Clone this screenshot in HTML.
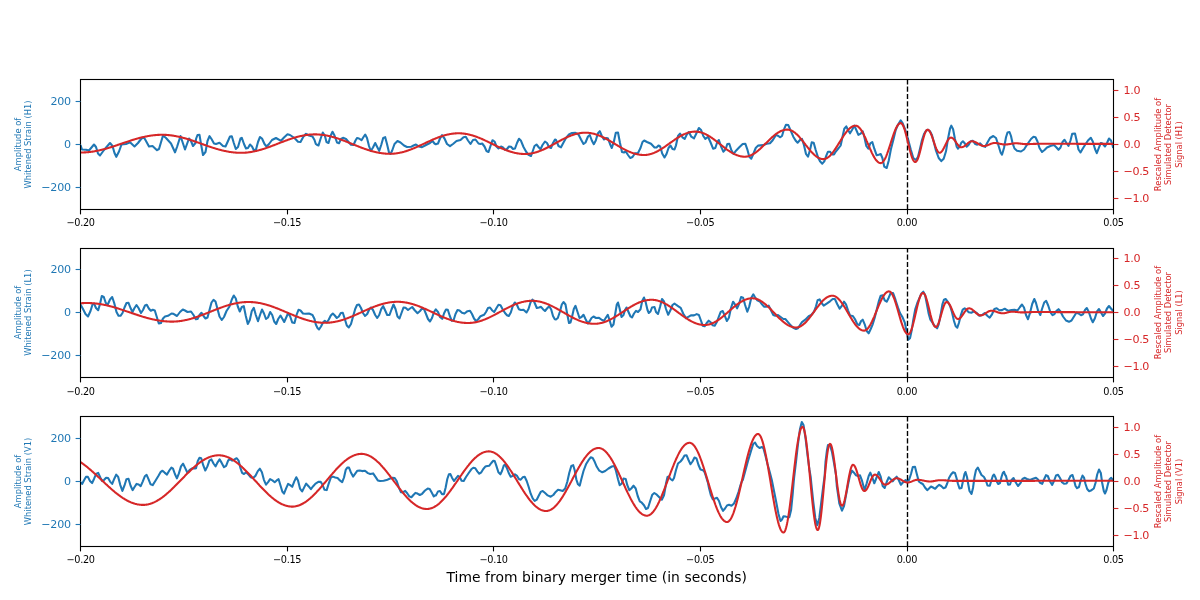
<!DOCTYPE html>
<html><head><meta charset="utf-8"><title>Whitened strain</title><style>html,body{margin:0;padding:0;background:#fff}body{width:1200px;height:600px;overflow:hidden}</style></head><body>
<svg width="1200" height="600" viewBox="0 0 1200 600" style="display:block;font-family:'DejaVu Sans','Liberation Sans',sans-serif">
<rect width="1200" height="600" fill="#fff"/>
<defs>
<clipPath id="c0"><rect x="80.5" y="79.5" width="1033.0" height="130.0"/></clipPath>
<clipPath id="c1"><rect x="80.5" y="248.5" width="1033.0" height="129.0"/></clipPath>
<clipPath id="c2"><rect x="80.5" y="416.5" width="1033.0" height="130.0"/></clipPath>
</defs>
<g clip-path="url(#c0)">
<polyline points="80.5,145.0 82.0,149.5 86.0,149.8 89.0,150.5 94.0,144.5 96.0,147.0 98.0,153.5 100.0,155.5 104.0,150.0 110.0,143.0 112.5,146.0 114.5,153.0 116.3,156.8 119.0,151.5 121.5,144.5 126.0,144.0 130.0,142.3 134.5,146.5 138.0,143.0 141.5,138.5 144.0,137.5 146.0,141.0 149.0,146.5 152.5,146.0 157.0,150.2 159.0,149.0 163.0,135.5 166.0,138.0 171.0,143.5 175.0,152.3 177.0,147.0 180.5,136.0 182.5,142.0 185.0,149.5 189.0,138.5 191.0,141.0 193.0,146.0 195.5,143.0 196.0,139.0 197.5,135.0 199.5,134.8 201.0,144.0 203.0,155.0 205.5,152.0 207.5,141.0 209.5,136.2 211.5,139.0 214.0,143.5 216.0,144.0 219.5,142.8 223.0,146.0 225.5,146.5 228.0,141.0 230.0,136.5 231.8,136.2 233.8,143.0 235.8,149.0 238.0,147.0 240.5,138.5 241.8,137.8 244.0,144.0 246.0,148.5 248.0,148.0 250.0,144.5 252.0,146.5 254.0,150.5 256.0,149.5 258.0,142.0 260.0,137.0 262.0,138.5 264.5,144.0 266.5,146.5 269.0,144.0 272.0,140.0 276.0,138.0 281.0,140.8 284.0,137.5 287.5,134.3 290.0,135.0 294.5,138.0 298.0,141.8 300.5,142.0 303.5,136.5 306.0,133.8 309.0,135.5 312.5,136.5 314.5,140.0 315.8,144.0 316.5,144.5 318.5,145.5 320.5,139.0 322.8,132.5 324.8,135.5 326.5,142.0 328.5,143.0 330.5,136.0 332.5,131.8 334.5,135.5 337.0,142.5 339.0,143.2 341.0,139.0 343.0,137.8 346.0,139.0 349.0,142.5 351.0,144.8 353.5,145.0 355.5,140.5 357.0,138.0 359.0,138.5 361.5,140.2 363.5,137.0 365.2,134.5 367.0,138.0 369.0,146.0 370.8,151.0 373.0,147.5 375.2,143.0 377.2,147.0 379.2,150.8 381.2,145.0 383.2,138.0 385.2,137.2 387.0,144.0 389.0,152.5 390.5,154.0 392.2,150.5 394.5,144.0 397.5,141.0 400.5,142.5 404.0,145.5 407.0,147.0 411.0,146.8 413.5,145.5 416.0,144.5 419.0,146.5 422.0,147.2 426.0,145.0 430.0,143.0 432.5,141.0 434.5,143.5 435.8,144.3 436.5,144.0 438.0,143.5 440.0,138.5 442.0,135.2 444.5,138.5 447.0,144.0 450.0,146.2 453.0,144.0 456.5,141.0 460.5,140.0 463.5,137.2 465.8,136.8 468.0,140.5 470.5,144.0 473.0,140.0 475.5,139.5 478.5,143.5 480.5,144.0 482.2,143.5 484.5,146.5 486.5,151.0 488.5,152.0 490.5,146.0 492.5,140.2 494.5,141.5 496.5,146.5 498.5,148.5 501.0,146.5 503.0,147.5 505.0,149.8 507.0,149.0 509.0,146.5 511.0,146.8 513.0,149.0 515.0,148.5 517.0,143.0 519.0,138.8 521.0,140.8 523.5,147.0 526.0,151.5 528.5,154.8 531.0,156.0 532.8,151.0 534.5,146.0 536.5,144.5 538.5,147.0 540.5,149.2 542.5,145.0 545.0,141.5 547.0,143.0 549.0,147.0 551.0,148.0 553.0,143.0 555.0,139.5 556.0,140.0 558.5,146.0 561.0,147.3 563.5,142.5 566.0,138.0 569.0,134.5 572.0,133.0 575.5,132.8 578.5,134.5 581.0,139.5 583.5,144.0 585.5,142.5 588.0,136.5 589.8,135.0 591.8,140.5 593.8,144.2 595.8,140.5 597.8,133.5 599.8,131.2 601.8,136.0 604.0,139.5 606.0,138.0 607.8,138.2 610.0,144.0 611.8,148.0 613.8,142.0 615.8,132.8 618.0,132.5 620.0,143.0 622.0,152.0 624.0,152.5 625.8,151.5 628.0,155.0 630.2,158.0 632.5,157.0 635.0,153.2 638.0,153.0 640.5,148.0 642.5,142.0 644.2,140.5 647.0,142.0 651.0,143.8 654.5,147.5 656.5,147.5 658.5,145.5 660.2,146.5 662.2,153.5 664.5,157.5 666.5,154.0 668.5,148.0 670.5,145.5 672.5,149.0 674.5,149.5 676.0,145.3 678.0,136.0 680.0,133.6 682.4,137.3 684.7,138.9 686.7,134.7 688.9,132.0 691.3,136.7 694.0,138.4 696.7,132.7 698.9,128.0 701.1,130.0 703.3,136.0 705.3,138.9 708.0,136.7 710.4,142.0 713.1,148.7 715.3,148.0 717.3,142.0 718.9,140.0 721.1,146.7 723.3,151.7 725.6,149.3 727.3,144.0 729.3,143.7 731.3,150.0 733.6,154.0 736.0,150.7 739.3,147.3 742.7,144.0 745.3,143.7 747.3,149.3 749.3,156.7 751.3,158.7 753.3,154.0 755.7,148.0 758.0,145.6 763.3,145.1 766.7,143.7 770.0,143.3 772.7,140.3 776.0,134.9 778.4,136.0 780.0,137.3 782.0,136.0 784.0,129.3 786.0,124.7 788.3,125.1 790.7,130.7 793.3,136.7 796.0,141.1 797.6,142.7 800.0,140.0 802.0,138.9 804.0,145.3 806.0,154.0 808.0,156.7 810.0,150.0 811.7,142.4 813.7,142.7 815.7,150.0 818.0,157.3 820.0,161.3 822.3,163.7 824.3,161.3 826.4,155.3 828.0,151.7 830.0,151.7 832.0,154.4 834.0,154.4 836.0,151.3 838.7,148.0 840.7,145.3 842.7,136.0 844.3,128.7 846.3,126.4 848.0,130.0 850.0,133.3 852.0,130.0 854.3,125.6 856.3,130.0 858.4,134.9 860.7,133.6 862.7,131.3 864.3,136.7 866.3,146.0 868.3,148.7 870.3,143.3 872.3,142.0 874.3,148.7 876.7,155.3 878.7,154.7 880.7,154.0 882.4,158.0 884.3,166.7 886.7,168.0 888.7,160.7 890.9,149.3 893.3,140.0 895.7,130.0 898.0,124.7 900.7,120.3 902.7,123.3 905.3,130.0 908.0,138.9 910.7,149.3 913.3,158.0 916.0,160.0 918.0,156.7 920.0,148.7 922.0,140.0 924.0,134.0 926.0,130.7 928.0,129.7 930.0,131.3 932.0,135.3 934.0,142.7 936.0,150.7 938.7,158.0 941.3,161.1 943.7,158.7 946.0,151.3 948.0,138.7 950.0,128.7 951.3,125.6 953.1,129.3 954.9,138.7 956.7,146.7 958.0,148.7 959.7,146.7 961.3,142.7 962.9,141.3 964.7,143.3 966.7,146.7 968.7,144.7 970.7,141.3 972.7,140.7 975.3,144.0 977.3,144.7 980.0,143.3 982.7,146.0 985.1,146.9 987.3,142.7 990.0,138.0 993.3,136.0 996.0,138.0 998.4,145.3 1000.7,152.7 1002.0,154.7 1004.0,148.0 1006.0,137.3 1007.5,132.5 1009.5,132.0 1011.0,136.0 1012.5,143.0 1014.5,148.5 1017.0,150.8 1021.0,151.5 1024.0,149.5 1027.5,144.0 1031.0,139.0 1033.5,136.8 1035.5,137.2 1037.5,141.5 1039.5,148.0 1042.0,152.0 1044.5,150.0 1047.0,147.5 1051.0,145.8 1054.0,145.0 1056.5,147.5 1058.5,149.8 1060.5,147.5 1062.5,142.0 1064.5,139.8 1066.5,143.0 1068.5,145.8 1070.5,140.5 1072.2,133.8 1075.0,133.5 1076.5,140.0 1078.5,149.5 1080.5,152.5 1082.5,149.0 1085.0,145.0 1088.0,140.5 1090.8,137.8 1092.8,141.5 1095.0,149.0 1096.8,153.2 1098.8,148.0 1100.8,143.0 1102.5,143.5 1105.0,146.5 1107.0,143.0 1109.0,138.5 1111.0,140.5 1112.5,145.0 1113.2,148.0" fill="none" stroke="#1f77b4" stroke-width="2.08" stroke-linejoin="round" stroke-linecap="butt"/>
<line x1="907.5" y1="209.5" x2="907.5" y2="79.5" stroke="#000" stroke-width="1.39" stroke-dasharray="5.14 2.22"/>
<polyline points="80.5,152.5 81.0,152.5 81.5,152.5 82.0,152.5 82.5,152.5 83.0,152.5 83.5,152.5 84.0,152.4 84.5,152.4 85.0,152.4 85.5,152.4 86.0,152.3 86.5,152.3 87.0,152.3 87.5,152.2 88.0,152.2 88.5,152.1 89.0,152.1 89.5,152.0 90.0,152.0 90.5,151.9 91.0,151.8 91.5,151.8 92.0,151.7 92.5,151.6 93.0,151.6 93.5,151.5 94.0,151.4 94.5,151.3 95.0,151.2 95.5,151.1 96.0,151.0 96.5,150.9 97.0,150.8 97.5,150.7 98.0,150.6 98.5,150.5 99.0,150.4 99.5,150.3 100.0,150.2 100.5,150.1 101.0,150.0 101.5,149.8 102.0,149.7 102.5,149.6 103.0,149.5 103.5,149.3 104.0,149.2 104.5,149.1 105.0,148.9 105.5,148.8 106.0,148.7 106.5,148.5 107.0,148.4 107.5,148.2 108.0,148.1 108.5,147.9 109.0,147.8 109.5,147.6 110.0,147.5 110.5,147.3 111.0,147.2 111.5,147.0 112.0,146.8 112.5,146.7 113.0,146.5 113.5,146.4 114.0,146.2 114.5,146.0 115.0,145.9 115.5,145.7 116.0,145.5 116.5,145.4 117.0,145.2 117.5,145.0 118.0,144.8 118.5,144.7 119.0,144.5 119.5,144.3 120.0,144.2 120.5,144.0 121.0,143.8 121.5,143.7 122.0,143.5 122.5,143.3 123.0,143.1 123.5,143.0 124.0,142.8 124.5,142.6 125.0,142.5 125.5,142.3 126.0,142.1 126.5,141.9 127.0,141.8 127.5,141.6 128.0,141.4 128.5,141.3 129.0,141.1 129.5,140.9 130.0,140.8 130.5,140.6 131.0,140.5 131.5,140.3 132.0,140.1 132.5,140.0 133.0,139.8 133.5,139.7 134.0,139.5 134.5,139.4 135.0,139.2 135.5,139.1 136.0,138.9 136.5,138.8 137.0,138.6 137.5,138.5 138.0,138.4 138.5,138.2 139.0,138.1 139.5,138.0 140.0,137.8 140.5,137.7 141.0,137.6 141.5,137.5 142.0,137.3 142.5,137.2 143.0,137.1 143.5,137.0 144.0,136.9 144.5,136.8 145.0,136.7 145.5,136.6 146.0,136.5 146.5,136.4 147.0,136.3 147.5,136.2 148.0,136.1 148.5,136.0 149.0,135.9 149.5,135.8 150.0,135.7 150.5,135.7 151.0,135.6 151.5,135.5 152.0,135.5 152.5,135.4 153.0,135.3 153.5,135.3 154.0,135.2 154.5,135.2 155.0,135.1 155.5,135.1 156.0,135.0 156.5,135.0 157.0,135.0 157.5,134.9 158.0,134.9 158.5,134.9 159.0,134.9 159.5,134.8 160.0,134.8 160.5,134.8 161.0,134.8 161.5,134.8 162.0,134.8 162.5,134.8 163.0,134.8 163.5,134.8 164.0,134.8 164.5,134.8 165.0,134.9 165.5,134.9 166.0,134.9 166.5,134.9 167.0,135.0 167.5,135.0 168.0,135.1 168.5,135.1 169.0,135.1 169.5,135.2 170.0,135.3 170.5,135.3 171.0,135.4 171.5,135.4 172.0,135.5 172.5,135.6 173.0,135.6 173.5,135.7 174.0,135.8 174.5,135.9 175.0,136.0 175.5,136.1 176.0,136.2 176.5,136.3 177.0,136.4 177.5,136.5 178.0,136.6 178.5,136.7 179.0,136.8 179.5,136.9 180.0,137.0 180.5,137.1 181.0,137.2 181.5,137.4 182.0,137.5 182.5,137.6 183.0,137.8 183.5,137.9 184.0,138.0 184.5,138.2 185.0,138.3 185.5,138.5 186.0,138.6 186.5,138.7 187.0,138.9 187.5,139.0 188.0,139.2 188.5,139.4 189.0,139.5 189.5,139.7 190.0,139.8 190.5,140.0 191.0,140.2 191.5,140.3 192.0,140.5 192.5,140.6 193.0,140.8 193.5,141.0 194.0,141.2 194.5,141.3 195.0,141.5 195.5,141.7 196.0,141.8 196.5,142.0 197.0,142.2 197.5,142.4 198.0,142.6 198.5,142.7 199.0,142.9 199.5,143.1 200.0,143.3 200.5,143.4 201.0,143.6 201.5,143.8 202.0,144.0 202.5,144.2 203.0,144.3 203.5,144.5 204.0,144.7 204.5,144.9 205.0,145.0 205.5,145.2 206.0,145.4 206.5,145.6 207.0,145.8 207.5,145.9 208.0,146.1 208.5,146.3 209.0,146.4 209.5,146.6 210.0,146.8 210.5,147.0 211.0,147.1 211.5,147.3 212.0,147.4 212.5,147.6 213.0,147.8 213.5,147.9 214.0,148.1 214.5,148.2 215.0,148.4 215.5,148.6 216.0,148.7 216.5,148.9 217.0,149.0 217.5,149.1 218.0,149.3 218.5,149.4 219.0,149.6 219.5,149.7 220.0,149.8 220.5,150.0 221.0,150.1 221.5,150.2 222.0,150.4 222.5,150.5 223.0,150.6 223.5,150.7 224.0,150.8 224.5,150.9 225.0,151.0 225.5,151.1 226.0,151.2 226.5,151.3 227.0,151.4 227.5,151.5 228.0,151.6 228.5,151.7 229.0,151.8 229.5,151.9 230.0,152.0 230.5,152.0 231.0,152.1 231.5,152.2 232.0,152.2 232.5,152.3 233.0,152.3 233.5,152.4 234.0,152.5 234.5,152.5 235.0,152.5 235.5,152.6 236.0,152.6 236.5,152.7 237.0,152.7 237.5,152.7 238.0,152.7 238.5,152.8 239.0,152.8 239.5,152.8 240.0,152.8 240.5,152.8 241.0,152.8 241.5,152.8 242.0,152.8 242.5,152.8 243.0,152.8 243.5,152.7 244.0,152.7 244.5,152.7 245.0,152.7 245.5,152.6 246.0,152.6 246.5,152.6 247.0,152.5 247.5,152.5 248.0,152.4 248.5,152.3 249.0,152.3 249.5,152.2 250.0,152.1 250.5,152.1 251.0,152.0 251.5,151.9 252.0,151.8 252.5,151.7 253.0,151.6 253.5,151.5 254.0,151.4 254.5,151.3 255.0,151.2 255.5,151.1 256.0,151.0 256.5,150.9 257.0,150.8 257.5,150.6 258.0,150.5 258.5,150.4 259.0,150.2 259.5,150.1 260.0,150.0 260.5,149.8 261.0,149.7 261.5,149.5 262.0,149.4 262.5,149.2 263.0,149.1 263.5,148.9 264.0,148.8 264.5,148.6 265.0,148.4 265.5,148.3 266.0,148.1 266.5,147.9 267.0,147.7 267.5,147.6 268.0,147.4 268.5,147.2 269.0,147.0 269.5,146.8 270.0,146.7 270.5,146.5 271.0,146.3 271.5,146.1 272.0,145.9 272.5,145.7 273.0,145.5 273.5,145.3 274.0,145.2 274.5,145.0 275.0,144.8 275.5,144.6 276.0,144.4 276.5,144.2 277.0,144.0 277.5,143.8 278.0,143.6 278.5,143.4 279.0,143.2 279.5,143.0 280.0,142.8 280.5,142.6 281.0,142.4 281.5,142.2 282.0,142.0 282.5,141.9 283.0,141.7 283.5,141.5 284.0,141.3 284.5,141.1 285.0,140.9 285.5,140.7 286.0,140.5 286.5,140.4 287.0,140.2 287.5,140.0 288.0,139.8 288.5,139.6 289.0,139.5 289.5,139.3 290.0,139.1 290.5,138.9 291.0,138.8 291.5,138.6 292.0,138.4 292.5,138.3 293.0,138.1 293.5,138.0 294.0,137.8 294.5,137.7 295.0,137.5 295.5,137.4 296.0,137.2 296.5,137.1 297.0,137.0 297.5,136.8 298.0,136.7 298.5,136.6 299.0,136.4 299.5,136.3 300.0,136.2 300.5,136.1 301.0,136.0 301.5,135.9 302.0,135.8 302.5,135.7 303.0,135.6 303.5,135.5 304.0,135.4 304.5,135.3 305.0,135.2 305.5,135.1 306.0,135.1 306.5,135.0 307.0,134.9 307.5,134.9 308.0,134.8 308.5,134.7 309.0,134.7 309.5,134.6 310.0,134.6 310.5,134.6 311.0,134.5 311.5,134.5 312.0,134.5 312.5,134.5 313.0,134.4 313.5,134.4 314.0,134.4 314.5,134.4 315.0,134.4 315.5,134.4 316.0,134.4 316.5,134.4 317.0,134.4 317.5,134.5 318.0,134.5 318.5,134.5 319.0,134.5 319.5,134.6 320.0,134.6 320.5,134.7 321.0,134.7 321.5,134.8 322.0,134.8 322.5,134.9 323.0,134.9 323.5,135.0 324.0,135.1 324.5,135.2 325.0,135.2 325.5,135.3 326.0,135.4 326.5,135.5 327.0,135.6 327.5,135.7 328.0,135.8 328.5,135.9 329.0,136.0 329.5,136.1 330.0,136.3 330.5,136.4 331.0,136.5 331.5,136.6 332.0,136.8 332.5,136.9 333.0,137.0 333.5,137.2 334.0,137.3 334.5,137.5 335.0,137.6 335.5,137.8 336.0,137.9 336.5,138.1 337.0,138.2 337.5,138.4 338.0,138.6 338.5,138.7 339.0,138.9 339.5,139.1 340.0,139.3 340.5,139.4 341.0,139.6 341.5,139.8 342.0,140.0 342.5,140.2 343.0,140.3 343.5,140.5 344.0,140.7 344.5,140.9 345.0,141.1 345.5,141.3 346.0,141.5 346.5,141.7 347.0,141.9 347.5,142.1 348.0,142.3 348.5,142.5 349.0,142.7 349.5,142.9 350.0,143.1 350.5,143.3 351.0,143.5 351.5,143.7 352.0,143.9 352.5,144.1 353.0,144.3 353.5,144.5 354.0,144.7 354.5,144.9 355.0,145.1 355.5,145.3 356.0,145.5 356.5,145.7 357.0,145.9 357.5,146.1 358.0,146.3 358.5,146.5 359.0,146.7 359.5,146.9 360.0,147.1 360.5,147.3 361.0,147.5 361.5,147.7 362.0,147.9 362.5,148.0 363.0,148.2 363.5,148.4 364.0,148.6 364.5,148.8 365.0,149.0 365.5,149.1 366.0,149.3 366.5,149.5 367.0,149.6 367.5,149.8 368.0,150.0 368.5,150.1 369.0,150.3 369.5,150.4 370.0,150.6 370.5,150.7 371.0,150.9 371.5,151.0 372.0,151.2 372.5,151.3 373.0,151.4 373.5,151.6 374.0,151.7 374.5,151.8 375.0,151.9 375.5,152.1 376.0,152.2 376.5,152.3 377.0,152.4 377.5,152.5 378.0,152.6 378.5,152.7 379.0,152.8 379.5,152.9 380.0,153.0 380.5,153.0 381.0,153.1 381.5,153.2 382.0,153.3 382.5,153.3 383.0,153.4 383.5,153.4 384.0,153.5 384.5,153.5 385.0,153.6 385.5,153.6 386.0,153.7 386.5,153.7 387.0,153.7 387.5,153.7 388.0,153.8 388.5,153.8 389.0,153.8 389.5,153.8 390.0,153.8 390.5,153.8 391.0,153.8 391.5,153.8 392.0,153.8 392.5,153.7 393.0,153.7 393.5,153.7 394.0,153.6 394.5,153.6 395.0,153.5 395.5,153.5 396.0,153.4 396.5,153.3 397.0,153.3 397.5,153.2 398.0,153.1 398.5,153.0 399.0,152.9 399.5,152.8 400.0,152.7 400.5,152.6 401.0,152.5 401.5,152.4 402.0,152.3 402.5,152.2 403.0,152.0 403.5,151.9 404.0,151.8 404.5,151.6 405.0,151.5 405.5,151.3 406.0,151.2 406.5,151.0 407.0,150.8 407.5,150.7 408.0,150.5 408.5,150.3 409.0,150.1 409.5,150.0 410.0,149.8 410.5,149.6 411.0,149.4 411.5,149.2 412.0,149.0 412.5,148.8 413.0,148.6 413.5,148.4 414.0,148.2 414.5,148.0 415.0,147.8 415.5,147.6 416.0,147.3 416.5,147.1 417.0,146.9 417.5,146.7 418.0,146.4 418.5,146.2 419.0,146.0 419.5,145.8 420.0,145.5 420.5,145.3 421.0,145.1 421.5,144.8 422.0,144.6 422.5,144.4 423.0,144.1 423.5,143.9 424.0,143.7 424.5,143.4 425.0,143.2 425.5,143.0 426.0,142.7 426.5,142.5 427.0,142.3 427.5,142.0 428.0,141.8 428.5,141.6 429.0,141.3 429.5,141.1 430.0,140.9 430.5,140.7 431.0,140.4 431.5,140.2 432.0,140.0 432.5,139.8 433.0,139.5 433.5,139.3 434.0,139.1 434.5,138.9 435.0,138.7 435.5,138.5 436.0,138.3 436.5,138.1 437.0,137.9 437.5,137.7 438.0,137.5 438.5,137.3 439.0,137.1 439.5,137.0 440.0,136.8 440.5,136.6 441.0,136.4 441.5,136.3 442.0,136.1 442.5,135.9 443.0,135.8 443.5,135.6 444.0,135.5 444.5,135.3 445.0,135.2 445.5,135.1 446.0,134.9 446.5,134.8 447.0,134.7 447.5,134.6 448.0,134.5 448.5,134.4 449.0,134.3 449.5,134.2 450.0,134.1 450.5,134.0 451.0,133.9 451.5,133.8 452.0,133.8 452.5,133.7 453.0,133.6 453.5,133.6 454.0,133.5 454.5,133.5 455.0,133.4 455.5,133.4 456.0,133.4 456.5,133.3 457.0,133.3 457.5,133.3 458.0,133.3 458.5,133.3 459.0,133.3 459.5,133.3 460.0,133.3 460.5,133.3 461.0,133.4 461.5,133.4 462.0,133.4 462.5,133.5 463.0,133.5 463.5,133.6 464.0,133.6 464.5,133.7 465.0,133.8 465.5,133.9 466.0,133.9 466.5,134.0 467.0,134.1 467.5,134.2 468.0,134.3 468.5,134.4 469.0,134.5 469.5,134.7 470.0,134.8 470.5,134.9 471.0,135.1 471.5,135.2 472.0,135.3 472.5,135.5 473.0,135.6 473.5,135.8 474.0,136.0 474.5,136.1 475.0,136.3 475.5,136.5 476.0,136.6 476.5,136.8 477.0,137.0 477.5,137.2 478.0,137.4 478.5,137.6 479.0,137.8 479.5,138.0 480.0,138.2 480.5,138.4 481.0,138.6 481.5,138.8 482.0,139.0 482.5,139.3 483.0,139.5 483.5,139.7 484.0,139.9 484.5,140.2 485.0,140.4 485.5,140.6 486.0,140.9 486.5,141.1 487.0,141.3 487.5,141.6 488.0,141.8 488.5,142.1 489.0,142.3 489.5,142.6 490.0,142.8 490.5,143.0 491.0,143.3 491.5,143.5 492.0,143.8 492.5,144.0 493.0,144.3 493.5,144.5 494.0,144.7 494.5,145.0 495.0,145.2 495.5,145.5 496.0,145.7 496.5,146.0 497.0,146.2 497.5,146.4 498.0,146.7 498.5,146.9 499.0,147.1 499.5,147.4 500.0,147.6 500.5,147.8 501.0,148.0 501.5,148.3 502.0,148.5 502.5,148.7 503.0,148.9 503.5,149.1 504.0,149.3 504.5,149.5 505.0,149.7 505.5,149.9 506.0,150.1 506.5,150.3 507.0,150.5 507.5,150.7 508.0,150.8 508.5,151.0 509.0,151.2 509.5,151.3 510.0,151.5 510.5,151.7 511.0,151.8 511.5,152.0 512.0,152.1 512.5,152.2 513.0,152.4 513.5,152.5 514.0,152.6 514.5,152.8 515.0,152.9 515.5,153.0 516.0,153.1 516.5,153.2 517.0,153.3 517.5,153.4 518.0,153.4 518.5,153.5 519.0,153.6 519.5,153.7 520.0,153.7 520.5,153.8 521.0,153.8 521.5,153.9 522.0,153.9 522.5,153.9 523.0,154.0 523.5,154.0 524.0,154.0 524.5,154.0 525.0,154.0 525.5,154.0 526.0,154.0 526.5,154.0 527.0,153.9 527.5,153.9 528.0,153.9 528.5,153.8 529.0,153.8 529.5,153.7 530.0,153.6 530.5,153.6 531.0,153.5 531.5,153.4 532.0,153.3 532.5,153.2 533.0,153.1 533.5,153.0 534.0,152.9 534.5,152.7 535.0,152.6 535.5,152.5 536.0,152.3 536.5,152.2 537.0,152.0 537.5,151.8 538.0,151.7 538.5,151.5 539.0,151.3 539.5,151.1 540.0,150.9 540.5,150.7 541.0,150.5 541.5,150.3 542.0,150.1 542.5,149.9 543.0,149.7 543.5,149.5 544.0,149.2 544.5,149.0 545.0,148.8 545.5,148.5 546.0,148.3 546.5,148.0 547.0,147.8 547.5,147.5 548.0,147.3 548.5,147.0 549.0,146.7 549.5,146.5 550.0,146.2 550.5,146.0 551.0,145.7 551.5,145.4 552.0,145.1 552.5,144.9 553.0,144.6 553.5,144.3 554.0,144.0 554.5,143.8 555.0,143.5 555.5,143.2 556.0,142.9 556.5,142.7 557.0,142.4 557.5,142.1 558.0,141.8 558.5,141.6 559.0,141.3 559.5,141.0 560.0,140.7 560.5,140.5 561.0,140.2 561.5,140.0 562.0,139.7 562.5,139.4 563.0,139.2 563.5,138.9 564.0,138.7 564.5,138.4 565.0,138.2 565.5,137.9 566.0,137.7 566.5,137.5 567.0,137.2 567.5,137.0 568.0,136.8 568.5,136.6 569.0,136.4 569.5,136.2 570.0,136.0 570.5,135.8 571.0,135.6 571.5,135.4 572.0,135.2 572.5,135.0 573.0,134.9 573.5,134.7 574.0,134.5 574.5,134.4 575.0,134.2 575.5,134.1 576.0,134.0 576.5,133.8 577.0,133.7 577.5,133.6 578.0,133.5 578.5,133.4 579.0,133.3 579.5,133.2 580.0,133.1 580.5,133.1 581.0,133.0 581.5,132.9 582.0,132.9 582.5,132.8 583.0,132.8 583.5,132.8 584.0,132.7 584.5,132.7 585.0,132.7 585.5,132.7 586.0,132.7 586.5,132.7 587.0,132.7 587.5,132.8 588.0,132.8 588.5,132.8 589.0,132.9 589.5,133.0 590.0,133.0 590.5,133.1 591.0,133.2 591.5,133.3 592.0,133.4 592.5,133.5 593.0,133.6 593.5,133.7 594.0,133.8 594.5,134.0 595.0,134.1 595.5,134.3 596.0,134.4 596.5,134.6 597.0,134.8 597.5,134.9 598.0,135.1 598.5,135.3 599.0,135.5 599.5,135.7 600.0,135.9 600.5,136.1 601.0,136.3 601.5,136.6 602.0,136.8 602.5,137.0 603.0,137.3 603.5,137.5 604.0,137.8 604.5,138.0 605.0,138.3 605.5,138.5 606.0,138.8 606.5,139.1 607.0,139.3 607.5,139.6 608.0,139.9 608.5,140.2 609.0,140.5 609.5,140.7 610.0,141.0 610.5,141.3 611.0,141.6 611.5,141.9 612.0,142.2 612.5,142.5 613.0,142.8 613.5,143.1 614.0,143.4 614.5,143.7 615.0,144.0 615.5,144.3 616.0,144.6 616.5,144.9 617.0,145.2 617.5,145.5 618.0,145.8 618.5,146.1 619.0,146.4 619.5,146.7 620.0,147.0 620.5,147.2 621.0,147.5 621.5,147.8 622.0,148.1 622.5,148.4 623.0,148.6 623.5,148.9 624.0,149.2 624.5,149.4 625.0,149.7 625.5,149.9 626.0,150.2 626.5,150.4 627.0,150.7 627.5,150.9 628.0,151.1 628.5,151.4 629.0,151.6 629.5,151.8 630.0,152.0 630.5,152.2 631.0,152.4 631.5,152.6 632.0,152.8 632.5,152.9 633.0,153.1 633.5,153.3 634.0,153.4 634.5,153.6 635.0,153.7 635.5,153.9 636.0,154.0 636.5,154.1 637.0,154.2 637.5,154.3 638.0,154.4 638.5,154.5 639.0,154.6 639.5,154.7 640.0,154.7 640.5,154.8 641.0,154.9 641.5,154.9 642.0,154.9 642.5,155.0 643.0,155.0 643.5,155.0 644.0,155.0 644.5,155.0 645.0,155.0 645.5,155.0 646.0,154.9 646.5,154.9 647.0,154.8 647.5,154.7 648.0,154.7 648.5,154.6 649.0,154.5 649.5,154.3 650.0,154.2 650.5,154.1 651.0,153.9 651.5,153.8 652.0,153.6 652.5,153.5 653.0,153.3 653.5,153.1 654.0,152.9 654.5,152.7 655.0,152.4 655.5,152.2 656.0,152.0 656.5,151.7 657.0,151.5 657.5,151.2 658.0,151.0 658.5,150.7 659.0,150.4 659.5,150.1 660.0,149.8 660.5,149.5 661.0,149.2 661.5,148.9 662.0,148.6 662.5,148.3 663.0,147.9 663.5,147.6 664.0,147.3 664.5,146.9 665.0,146.6 665.5,146.2 666.0,145.9 666.5,145.5 667.0,145.2 667.5,144.8 668.0,144.5 668.5,144.1 669.0,143.8 669.5,143.4 670.0,143.0 670.5,142.7 671.0,142.3 671.5,142.0 672.0,141.6 672.5,141.3 673.0,140.9 673.5,140.6 674.0,140.2 674.5,139.9 675.0,139.5 675.5,139.2 676.0,138.9 676.5,138.5 677.0,138.2 677.5,137.9 678.0,137.6 678.5,137.3 679.0,137.0 679.5,136.7 680.0,136.4 680.5,136.1 681.0,135.8 681.5,135.5 682.0,135.3 682.5,135.0 683.0,134.8 683.5,134.5 684.0,134.3 684.5,134.1 685.0,133.9 685.5,133.6 686.0,133.4 686.5,133.3 687.0,133.1 687.5,132.9 688.0,132.7 688.5,132.6 689.0,132.5 689.5,132.3 690.0,132.2 690.5,132.1 691.0,132.0 691.5,131.9 692.0,131.8 692.5,131.8 693.0,131.7 693.5,131.7 694.0,131.6 694.5,131.6 695.0,131.6 695.5,131.6 696.0,131.6 696.5,131.6 697.0,131.7 697.5,131.7 698.0,131.8 698.5,131.9 699.0,131.9 699.5,132.0 700.0,132.2 700.5,132.3 701.0,132.4 701.5,132.6 702.0,132.7 702.5,132.9 703.0,133.1 703.5,133.3 704.0,133.5 704.5,133.7 705.0,133.9 705.5,134.1 706.0,134.4 706.5,134.7 707.0,134.9 707.5,135.2 708.0,135.5 708.5,135.8 709.0,136.1 709.5,136.4 710.0,136.7 710.5,137.0 711.0,137.4 711.5,137.7 712.0,138.0 712.5,138.4 713.0,138.7 713.5,139.1 714.0,139.5 714.5,139.8 715.0,140.2 715.5,140.6 716.0,141.0 716.5,141.4 717.0,141.8 717.5,142.2 718.0,142.6 718.5,143.0 719.0,143.4 719.5,143.8 720.0,144.1 720.5,144.5 721.0,144.9 721.5,145.3 722.0,145.7 722.5,146.1 723.0,146.5 723.5,146.9 724.0,147.3 724.5,147.7 725.0,148.1 725.5,148.5 726.0,148.8 726.5,149.2 727.0,149.6 727.5,149.9 728.0,150.3 728.5,150.6 729.0,150.9 729.5,151.3 730.0,151.6 730.5,151.9 731.0,152.2 731.5,152.5 732.0,152.8 732.5,153.1 733.0,153.4 733.5,153.6 734.0,153.9 734.5,154.2 735.0,154.4 735.5,154.6 736.0,154.8 736.5,155.0 737.0,155.2 737.5,155.4 738.0,155.6 738.5,155.7 739.0,155.9 739.5,156.0 740.0,156.1 740.5,156.3 741.0,156.4 741.5,156.4 742.0,156.5 742.5,156.6 743.0,156.6 743.5,156.7 744.0,156.7 744.5,156.7 745.0,156.7 745.5,156.7 746.0,156.6 746.5,156.6 747.0,156.5 747.5,156.4 748.0,156.3 748.5,156.2 749.0,156.0 749.5,155.9 750.0,155.7 750.5,155.5 751.0,155.3 751.5,155.0 752.0,154.8 752.5,154.5 753.0,154.2 753.5,153.9 754.0,153.6 754.5,153.3 755.0,153.0 755.5,152.6 756.0,152.3 756.5,151.9 757.0,151.5 757.5,151.1 758.0,150.7 758.5,150.3 759.0,149.8 759.5,149.4 760.0,149.0 760.5,148.5 761.0,148.0 761.5,147.6 762.0,147.1 762.5,146.6 763.0,146.1 763.5,145.6 764.0,145.1 764.5,144.6 765.0,144.1 765.5,143.6 766.0,143.1 766.5,142.7 767.0,142.2 767.5,141.7 768.0,141.2 768.5,140.7 769.0,140.2 769.5,139.7 770.0,139.2 770.5,138.7 771.0,138.3 771.5,137.8 772.0,137.3 772.5,136.9 773.0,136.5 773.5,136.0 774.0,135.6 774.5,135.2 775.0,134.8 775.5,134.4 776.0,134.0 776.5,133.7 777.0,133.3 777.5,133.0 778.0,132.7 778.5,132.4 779.0,132.1 779.5,131.8 780.0,131.5 780.5,131.3 781.0,131.0 781.5,130.8 782.0,130.6 782.5,130.4 783.0,130.3 783.5,130.1 784.0,130.0 784.5,129.9 785.0,129.8 785.5,129.7 786.0,129.7 786.5,129.6 787.0,129.6 787.5,129.6 788.0,129.6 788.5,129.7 789.0,129.8 789.5,129.9 790.0,130.0 790.5,130.2 791.0,130.4 791.5,130.6 792.0,130.8 792.5,131.1 793.0,131.4 793.5,131.7 794.0,132.1 794.5,132.4 795.0,132.8 795.5,133.2 796.0,133.7 796.5,134.1 797.0,134.6 797.5,135.1 798.0,135.6 798.5,136.1 799.0,136.6 799.5,137.2 800.0,137.8 800.5,138.4 801.0,138.9 801.5,139.5 802.0,140.2 802.5,140.8 803.0,141.4 803.5,142.0 804.0,142.7 804.5,143.3 805.0,144.0 805.5,144.6 806.0,145.3 806.5,145.9 807.0,146.5 807.5,147.2 808.0,147.8 808.5,148.4 809.0,149.0 809.5,149.6 810.0,150.2 810.5,150.8 811.0,151.4 811.5,151.9 812.0,152.5 812.5,153.0 813.0,153.5 813.5,154.0 814.0,154.5 814.5,155.0 815.0,155.4 815.5,155.8 816.0,156.2 816.5,156.6 817.0,156.9 817.5,157.3 818.0,157.6 818.5,157.8 819.0,158.1 819.5,158.3 820.0,158.5 820.5,158.7 821.0,158.8 821.5,158.9 822.0,159.0 822.5,159.1 823.0,159.1 823.5,159.1 824.0,159.1 824.5,159.0 825.0,158.9 825.5,158.7 826.0,158.5 826.5,158.3 827.0,158.0 827.5,157.7 828.0,157.4 828.5,157.0 829.0,156.6 829.5,156.2 830.0,155.7 830.5,155.2 831.0,154.6 831.5,154.1 832.0,153.5 832.5,152.8 833.0,152.2 833.5,151.5 834.0,150.8 834.5,150.1 835.0,149.4 835.5,148.7 836.0,147.9 836.5,147.1 837.0,146.3 837.5,145.5 838.0,144.7 838.5,143.9 839.0,143.1 839.5,142.3 840.0,141.5 840.5,140.7 841.0,139.9 841.5,139.1 842.0,138.3 842.5,137.5 843.0,136.7 843.5,136.0 844.0,135.2 844.5,134.5 845.0,133.8 845.5,133.1 846.0,132.5 846.5,131.8 847.0,131.2 847.5,130.6 848.0,130.1 848.5,129.5 849.0,129.0 849.5,128.6 850.0,128.1 850.5,127.7 851.0,127.3 851.5,127.0 852.0,126.7 852.5,126.5 853.0,126.2 853.5,126.0 854.0,125.9 854.5,125.8 855.0,125.7 855.5,125.7 856.0,125.7 856.5,125.8 857.0,126.0 857.5,126.2 858.0,126.5 858.5,126.9 859.0,127.4 859.5,127.9 860.0,128.5 860.5,129.1 861.0,129.8 861.5,130.6 862.0,131.4 862.5,132.3 863.0,133.2 863.5,134.1 864.0,135.1 864.5,136.2 865.0,137.2 865.5,138.3 866.0,139.4 866.5,140.6 867.0,141.7 867.5,142.9 868.0,144.0 868.5,145.2 869.0,146.4 869.5,147.5 870.0,148.7 870.5,149.8 871.0,150.9 871.5,152.0 872.0,153.1 872.5,154.1 873.0,155.1 873.5,156.0 874.0,156.9 874.5,157.7 875.0,158.5 875.5,159.3 876.0,160.0 876.5,160.6 877.0,161.1 877.5,161.6 878.0,162.0 878.5,162.4 879.0,162.7 879.5,162.9 880.0,163.0 880.5,163.1 881.0,163.1 881.5,162.9 882.0,162.7 882.5,162.3 883.0,161.8 883.5,161.2 884.0,160.5 884.5,159.6 885.0,158.7 885.5,157.7 886.0,156.6 886.5,155.4 887.0,154.1 887.5,152.7 888.0,151.3 888.5,149.9 889.0,148.4 889.5,146.8 890.0,145.3 890.5,143.7 891.0,142.2 891.5,140.6 892.0,139.0 892.5,137.5 893.0,136.0 893.5,134.6 894.0,133.2 894.5,131.9 895.0,130.6 895.5,129.4 896.0,128.3 896.5,127.3 897.0,126.4 897.5,125.6 898.0,124.9 898.5,124.3 899.0,123.8 899.5,123.5 900.0,123.2 900.5,123.1 901.0,123.1 901.5,123.4 902.0,123.9 902.5,124.5 903.0,125.4 903.5,126.5 904.0,127.8 904.5,129.2 905.0,130.8 905.5,132.6 906.0,134.4 906.5,136.4 907.0,138.4 907.5,140.5 908.0,142.6 908.5,144.6 909.0,146.7 909.5,148.7 910.0,150.7 910.5,152.5 911.0,154.3 911.5,155.9 912.0,157.3 912.5,158.6 913.0,159.7 913.5,160.6 914.0,161.2 914.5,161.7 915.0,162.0 915.5,162.0 916.0,161.7 916.5,161.2 917.0,160.5 917.5,159.5 918.0,158.3 918.5,156.9 919.0,155.3 919.5,153.6 920.0,151.7 920.5,149.7 921.0,147.7 921.5,145.6 922.0,143.6 922.5,141.6 923.0,139.6 923.5,137.8 924.0,136.1 924.5,134.5 925.0,133.1 925.5,132.0 926.0,131.0 926.5,130.3 927.0,129.9 927.5,129.7 928.0,129.8 928.5,130.0 929.0,130.5 929.5,131.1 930.0,131.9 930.5,132.9 931.0,134.0 931.5,135.2 932.0,136.5 932.5,137.9 933.0,139.4 933.5,140.9 934.0,142.4 934.5,143.9 935.0,145.3 935.5,146.7 936.0,148.0 936.5,149.1 937.0,150.1 937.5,151.0 938.0,151.7 938.5,152.2 939.0,152.6 939.5,152.7 940.0,152.7 940.5,152.5 941.0,152.1 941.5,151.7 942.0,151.1 942.5,150.4 943.0,149.6 943.5,148.7 944.0,147.8 944.5,146.8 945.0,145.8 945.5,144.7 946.0,143.7 946.5,142.7 947.0,141.7 947.5,140.8 948.0,140.0 948.5,139.3 949.0,138.7 949.5,138.2 950.0,137.9 950.5,137.7 951.0,137.6 951.5,137.7 952.0,137.8 952.5,138.1 953.0,138.5 953.5,138.9 954.0,139.5 954.5,140.1 955.0,140.8 955.5,141.5 956.0,142.2 956.5,143.0 957.0,143.7 957.5,144.4 958.0,145.0 958.5,145.6 959.0,146.2 959.5,146.6 960.0,146.9 960.5,147.2 961.0,147.3 961.5,147.3 962.0,147.2 962.5,147.1 963.0,146.9 963.5,146.7 964.0,146.4 964.5,146.1 965.0,145.7 965.5,145.3 966.0,144.9 966.5,144.4 967.0,144.0 967.5,143.6 968.0,143.1 968.5,142.7 969.0,142.4 969.5,142.1 970.0,141.8 970.5,141.6 971.0,141.4 971.5,141.3 972.0,141.3 972.5,141.3 973.0,141.4 973.5,141.5 974.0,141.6 974.5,141.8 975.0,142.0 975.5,142.2 976.0,142.5 976.5,142.8 977.0,143.0 977.5,143.3 978.0,143.7 978.5,144.0 979.0,144.3 979.5,144.5 980.0,144.8 980.5,145.1 981.0,145.3 981.5,145.5 982.0,145.7 982.5,145.8 983.0,145.9 983.5,146.0 984.0,146.0 984.5,146.0 985.0,145.9 985.5,145.9 986.0,145.7 986.5,145.6 987.0,145.5 987.5,145.3 988.0,145.1 988.5,144.9 989.0,144.7 989.5,144.4 990.0,144.2 990.5,144.0 991.0,143.8 991.5,143.6 992.0,143.4 992.5,143.3 993.0,143.2 993.5,143.1 994.0,143.0 994.5,143.0 995.0,143.0 995.5,143.0 996.0,143.1 996.5,143.1 997.0,143.2 997.5,143.3 998.0,143.3 998.5,143.4 999.0,143.6 999.5,143.7 1000.0,143.8 1000.5,143.9 1001.0,144.0 1001.5,144.1 1002.0,144.2 1002.5,144.3 1003.0,144.4 1003.5,144.4 1004.0,144.5 1004.5,144.5 1005.0,144.5 1005.5,144.5 1006.0,144.5 1006.5,144.4 1007.0,144.4 1007.5,144.4 1008.0,144.3 1008.5,144.2 1009.0,144.1 1009.5,144.1 1010.0,144.0 1010.5,143.9 1011.0,143.8 1011.5,143.7 1012.0,143.7 1012.5,143.6 1013.0,143.5 1013.5,143.4 1014.0,143.4 1014.5,143.4 1015.0,143.3 1015.5,143.3 1016.0,143.3 1016.5,143.3 1017.0,143.3 1017.5,143.3 1018.0,143.4 1018.5,143.4 1019.0,143.5 1019.5,143.5 1020.0,143.6 1020.5,143.6 1021.0,143.7 1021.5,143.8 1022.0,143.8 1022.5,143.9 1023.0,143.9 1023.5,144.0 1024.0,144.0 1024.5,144.1 1025.0,144.1 1025.5,144.1 1026.0,144.1 1026.5,144.1 1027.0,144.1 1027.5,144.1 1028.0,144.1 1028.5,144.1 1029.0,144.1 1029.5,144.1 1030.0,144.0 1030.5,144.0 1031.0,144.0 1031.5,144.0 1032.0,144.0 1032.5,144.0 1033.0,143.9 1033.5,143.9 1034.0,143.9 1034.5,143.9 1035.0,143.9 1035.5,143.9 1036.0,143.9 1036.5,143.8 1037.0,143.8 1037.5,143.8 1038.0,143.8 1038.5,143.8 1039.0,143.8 1039.5,143.8 1040.0,143.8 1040.5,143.8 1041.0,143.8 1041.5,143.8 1042.0,143.8 1042.5,143.8 1043.0,143.8 1043.5,143.8 1044.0,143.8 1044.5,143.8 1045.0,143.8 1045.5,143.8 1046.0,143.8 1046.5,143.8 1047.0,143.8 1047.5,143.8 1048.0,143.8 1048.5,143.8 1049.0,143.8 1049.5,143.8 1050.0,143.8 1050.5,143.8 1051.0,143.8 1051.5,143.8 1052.0,143.8 1052.5,143.8 1053.0,143.8 1053.5,143.8 1054.0,143.8 1054.5,143.8 1055.0,143.8 1055.5,143.8 1056.0,143.8 1056.5,143.8 1057.0,143.8 1057.5,143.8 1058.0,143.8 1058.5,143.8 1059.0,143.8 1059.5,143.8 1060.0,143.8 1060.5,143.8 1061.0,143.8 1061.5,143.8 1062.0,143.8 1062.5,143.8 1063.0,143.8 1063.5,143.8 1064.0,143.8 1064.5,143.8 1065.0,143.8 1065.5,143.8 1066.0,143.8 1066.5,143.8 1067.0,143.8 1067.5,143.8 1068.0,143.8 1068.5,143.8 1069.0,143.8 1069.5,143.8 1070.0,143.8 1070.5,143.8 1071.0,143.8 1071.5,143.8 1072.0,143.8 1072.5,143.8 1073.0,143.8 1073.5,143.8 1074.0,143.8 1074.5,143.8 1075.0,143.8 1075.5,143.8 1076.0,143.8 1076.5,143.8 1077.0,143.9 1077.5,143.9 1078.0,143.9 1078.5,143.9 1079.0,143.9 1079.5,143.9 1080.0,143.9 1080.5,143.9 1081.0,143.9 1081.5,143.9 1082.0,143.9 1082.5,143.9 1083.0,143.9 1083.5,143.9 1084.0,143.9 1084.5,143.9 1085.0,143.9 1085.5,143.9 1086.0,143.9 1086.5,143.9 1087.0,143.9 1087.5,143.9 1088.0,143.9 1088.5,143.9 1089.0,143.9 1089.5,143.9 1090.0,143.9 1090.5,143.9 1091.0,143.9 1091.5,143.9 1092.0,143.9 1092.5,143.9 1093.0,143.9 1093.5,143.9 1094.0,143.9 1094.5,143.9 1095.0,143.9 1095.5,143.9 1096.0,143.9 1096.5,143.9 1097.0,143.9 1097.5,143.9 1098.0,143.9 1098.5,143.9 1099.0,143.9 1099.5,143.9 1100.0,143.9 1100.5,143.9 1101.0,143.9 1101.5,143.9 1102.0,143.9 1102.5,143.9 1103.0,143.9 1103.5,143.9 1104.0,143.9 1104.5,143.9 1105.0,143.9 1105.5,143.9 1106.0,143.9 1106.5,143.9 1107.0,143.9 1107.5,143.9 1108.0,143.9 1108.5,143.9 1109.0,143.9 1109.5,143.9 1110.0,143.9 1110.5,143.9 1111.0,143.9 1111.5,143.9 1112.0,143.9 1112.5,143.9 1113.0,143.9 1113.5,143.9" fill="none" stroke="#d62728" stroke-width="2.08" stroke-linejoin="round" stroke-linecap="butt"/>
</g>
<rect x="80.5" y="79.5" width="1033.0" height="130.0" fill="none" stroke="#000" stroke-width="1.11"/>
<line x1="80.5" y1="209.5" x2="80.5" y2="214.4" stroke="#000" stroke-width="1.11"/>
<text x="80.6" y="225.8" font-size="9.72" letter-spacing="-0.3" text-anchor="middle" fill="#000">−0.20</text>
<line x1="287.5" y1="209.5" x2="287.5" y2="214.4" stroke="#000" stroke-width="1.11"/>
<text x="287.1" y="225.8" font-size="9.72" letter-spacing="-0.3" text-anchor="middle" fill="#000">−0.15</text>
<line x1="493.5" y1="209.5" x2="493.5" y2="214.4" stroke="#000" stroke-width="1.11"/>
<text x="493.6" y="225.8" font-size="9.72" letter-spacing="-0.3" text-anchor="middle" fill="#000">−0.10</text>
<line x1="700.5" y1="209.5" x2="700.5" y2="214.4" stroke="#000" stroke-width="1.11"/>
<text x="700.2" y="225.8" font-size="9.72" letter-spacing="-0.3" text-anchor="middle" fill="#000">−0.05</text>
<line x1="907.5" y1="209.5" x2="907.5" y2="214.4" stroke="#000" stroke-width="1.11"/>
<text x="906.9" y="225.8" font-size="9.72" letter-spacing="-0.3" text-anchor="middle" fill="#000">0.00</text>
<line x1="1113.5" y1="209.5" x2="1113.5" y2="214.4" stroke="#000" stroke-width="1.11"/>
<text x="1113.5" y="225.8" font-size="9.72" letter-spacing="-0.3" text-anchor="middle" fill="#000">0.05</text>
<line x1="75.6" y1="101.5" x2="80.5" y2="101.5" stroke="#1f77b4" stroke-width="1.11"/>
<text x="70.7" y="105.0" font-size="11.11" letter-spacing="-0.3" text-anchor="end" fill="#1f77b4">200</text>
<line x1="75.6" y1="144.5" x2="80.5" y2="144.5" stroke="#1f77b4" stroke-width="1.11"/>
<text x="70.7" y="148.0" font-size="11.11" letter-spacing="-0.3" text-anchor="end" fill="#1f77b4">0</text>
<line x1="75.6" y1="187.5" x2="80.5" y2="187.5" stroke="#1f77b4" stroke-width="1.11"/>
<text x="70.7" y="191.0" font-size="11.11" letter-spacing="-0.3" text-anchor="end" fill="#1f77b4">−200</text>
<line x1="1113.5" y1="90.5" x2="1118.4" y2="90.5" stroke="#d62728" stroke-width="1.11"/>
<text x="1123.6" y="94.0" font-size="11.11" letter-spacing="-0.4" text-anchor="start" fill="#d62728">1.0</text>
<line x1="1113.5" y1="117.5" x2="1118.4" y2="117.5" stroke="#d62728" stroke-width="1.11"/>
<text x="1123.6" y="121.0" font-size="11.11" letter-spacing="-0.4" text-anchor="start" fill="#d62728">0.5</text>
<line x1="1113.5" y1="144.5" x2="1118.4" y2="144.5" stroke="#d62728" stroke-width="1.11"/>
<text x="1123.6" y="148.0" font-size="11.11" letter-spacing="-0.4" text-anchor="start" fill="#d62728">0.0</text>
<line x1="1113.5" y1="171.5" x2="1118.4" y2="171.5" stroke="#d62728" stroke-width="1.11"/>
<text x="1123.6" y="175.0" font-size="11.11" letter-spacing="-0.4" text-anchor="start" fill="#d62728">−0.5</text>
<line x1="1113.5" y1="198.5" x2="1118.4" y2="198.5" stroke="#d62728" stroke-width="1.11"/>
<text x="1123.6" y="202.0" font-size="11.11" letter-spacing="-0.4" text-anchor="start" fill="#d62728">−1.0</text>
<g transform="translate(0,144.5) rotate(-90)" font-size="8.33" text-anchor="middle" fill="#1f77b4"><text x="0" y="21.0">Amplitude of</text><text x="0" y="31.3">Whitened Strain (H1)</text></g>
<g transform="translate(0,144.5) rotate(-90)" font-size="8.33" text-anchor="middle" fill="#d62728"><text x="0" y="1161">Rescaled Amplitude of</text><text x="0" y="1171.3">Simulated Detector</text><text x="0" y="1181.6">Signal (H1)</text></g>
<g clip-path="url(#c1)">
<polyline points="80.5,304.5 83.0,309.0 85.5,314.0 88.0,316.5 90.5,311.0 92.5,304.5 94.0,303.5 96.0,308.0 98.2,310.2 100.0,304.0 101.8,296.0 103.8,297.0 105.8,303.0 107.8,304.5 110.0,299.5 112.2,297.0 114.2,303.0 116.5,312.0 118.5,315.8 120.5,315.8 122.5,313.0 124.5,307.5 126.5,303.0 128.5,302.8 130.5,308.0 132.5,312.0 134.5,308.0 136.5,305.0 138.5,308.0 141.0,313.0 143.0,310.0 145.0,305.5 146.8,304.8 148.8,308.5 150.8,310.8 152.8,309.8 154.8,310.5 156.8,317.0 158.8,323.5 161.0,323.0 163.0,318.5 165.0,316.5 168.0,315.8 171.5,313.5 173.5,313.8 177.0,316.0 180.0,312.0 182.8,309.5 185.0,310.5 187.5,312.0 191.0,311.5 193.5,315.0 195.8,319.2 197.5,319.0 199.5,315.0 201.5,312.8 203.5,316.0 205.5,318.5 207.5,317.5 209.5,310.0 211.5,302.5 213.5,299.8 215.5,301.5 217.5,309.0 219.5,316.5 221.8,320.0 224.0,317.0 226.5,311.0 229.5,306.5 231.8,299.5 233.8,295.5 235.8,298.5 237.8,306.5 239.8,311.5 241.8,307.0 243.8,306.2 245.8,316.0 247.8,324.0 249.8,320.0 251.8,311.0 253.8,307.8 255.8,315.0 258.0,321.2 260.0,315.0 262.0,309.5 264.0,313.5 266.0,319.0 268.0,317.5 270.2,312.0 272.2,315.0 274.2,321.5 276.2,324.0 278.2,319.0 280.5,315.5 282.5,319.0 284.2,322.0 286.2,317.5 288.2,313.0 290.2,316.5 292.2,322.5 294.5,323.0 296.5,315.0 298.5,309.8 300.5,310.5 303.0,313.5 305.5,313.8 309.0,313.5 312.5,315.0 314.5,319.0 315.8,324.5 317.5,328.0 319.0,329.5 321.0,326.5 323.0,322.5 324.8,320.8 326.8,322.5 328.8,319.5 330.8,315.5 332.8,313.5 334.8,315.5 336.8,318.0 338.8,316.5 340.8,313.0 342.8,312.8 344.8,319.0 346.8,325.5 348.8,327.5 351.0,324.0 353.2,316.0 355.2,309.0 357.0,305.0 359.0,304.5 361.0,308.0 363.0,313.0 365.0,316.0 367.2,314.0 369.2,309.5 371.0,307.5 373.0,310.0 375.2,315.0 377.2,318.0 379.2,315.0 381.2,309.2 383.2,306.2 385.2,310.5 387.2,315.0 389.5,315.0 391.5,309.5 393.5,304.5 395.5,309.0 397.5,316.5 399.5,318.5 401.5,313.0 403.5,307.5 405.5,307.8 408.0,310.0 410.0,308.5 412.2,307.0 414.5,310.0 417.5,313.2 420.0,311.0 422.0,308.5 424.0,309.2 426.0,314.0 428.0,319.0 430.0,321.5 432.0,318.0 434.0,312.0 435.8,309.4 438.0,312.0 440.0,317.0 442.2,318.8 444.2,313.0 446.0,309.5 447.8,309.8 449.8,316.0 451.8,320.8 453.5,320.5 455.5,314.0 457.5,310.0 459.5,310.5 462.0,312.8 464.5,313.5 467.5,311.2 470.0,310.8 472.0,314.0 474.0,318.5 476.0,321.0 478.0,319.5 480.5,316.2 484.0,314.8 486.0,312.0 488.0,308.0 490.0,307.5 492.0,310.2 494.2,312.0 496.5,308.0 498.5,304.8 500.5,305.2 502.5,309.0 505.0,313.0 507.0,315.2 508.8,316.0 510.8,312.5 512.8,306.0 514.8,302.5 516.8,304.5 518.8,309.2 521.0,310.0 523.5,309.8 526.5,312.5 528.5,309.0 530.5,302.5 532.5,299.5 534.5,302.5 536.8,308.0 539.0,307.5 541.0,306.8 543.0,309.2 545.0,311.0 547.0,308.5 549.2,306.2 551.2,309.5 553.0,316.0 554.8,319.2 556.0,319.5 557.8,318.0 559.8,312.0 561.8,304.5 563.5,302.0 565.5,304.5 567.2,314.0 569.0,323.0 570.5,322.5 572.0,317.0 573.8,309.0 575.5,305.8 577.2,311.0 579.5,318.0 581.5,317.0 583.5,314.8 585.5,319.0 587.8,323.5 589.8,321.0 591.5,318.0 593.5,316.5 596.0,318.0 599.0,317.8 602.0,320.0 604.0,320.8 606.0,317.5 607.8,314.8 609.5,320.0 611.5,326.8 613.5,324.5 615.2,314.0 616.8,304.5 618.0,302.5 619.5,308.0 621.5,317.0 623.5,315.0 625.0,310.0 626.5,307.5 628.5,312.0 630.5,316.5 632.0,317.5 634.0,313.5 636.0,310.8 638.0,312.0 640.5,309.2 642.2,301.0 644.0,297.5 645.5,301.5 647.5,310.0 648.8,313.0 650.5,311.5 652.0,307.5 654.5,307.0 656.0,312.0 658.0,314.0 660.0,307.0 662.0,299.0 664.0,301.5 666.0,309.0 668.2,314.8 670.5,310.0 672.5,305.0 674.5,303.5 676.0,304.7 678.4,306.3 680.7,307.9 683.3,313.7 686.0,318.1 688.7,316.7 690.9,315.4 694.0,315.4 696.7,314.1 698.9,315.0 701.1,321.0 702.7,325.7 704.7,326.3 706.7,323.0 708.7,320.7 710.7,322.3 712.7,325.3 714.7,325.7 716.7,322.3 718.7,317.0 720.7,311.9 722.7,311.0 724.7,315.7 726.9,321.0 728.9,317.7 730.9,308.3 733.1,301.7 734.9,304.3 737.1,308.3 738.9,304.3 741.1,297.0 743.1,297.7 745.1,305.0 747.3,311.7 749.3,306.3 751.3,297.7 753.3,294.3 754.9,297.0 757.3,300.3 760.0,301.7 762.0,304.3 764.0,306.6 766.7,306.6 768.7,305.7 770.7,309.7 773.3,315.0 775.3,315.7 778.0,315.0 780.7,317.0 783.3,319.0 785.3,319.0 788.0,322.1 790.7,325.3 793.3,327.7 796.0,329.0 798.0,328.3 800.0,325.0 802.0,322.1 805.3,319.7 808.7,316.3 811.3,315.0 814.0,311.7 816.0,306.3 817.6,300.3 819.7,299.4 821.6,303.0 823.7,305.7 826.7,303.7 830.0,301.3 832.7,299.0 834.9,299.0 837.3,304.3 839.7,308.7 842.0,305.7 844.0,301.7 846.0,304.3 848.0,310.3 850.0,315.4 852.7,315.9 854.9,319.0 857.3,324.3 859.3,325.0 861.1,321.0 862.7,319.7 864.7,324.3 866.7,331.0 868.7,333.3 870.7,329.0 872.7,324.3 874.7,317.7 876.7,309.7 878.7,301.7 880.7,295.7 882.7,295.4 884.7,300.3 886.7,301.7 888.7,297.7 890.7,293.0 893.1,293.0 895.3,299.0 896.0,301.7 898.0,307.7 900.0,313.0 902.4,317.0 904.7,322.3 906.7,331.7 908.3,339.7 910.0,338.3 911.7,330.3 913.3,319.7 915.3,309.0 917.3,303.0 919.3,298.3 921.3,293.7 923.3,291.7 925.1,295.0 926.9,304.3 928.7,313.7 930.4,319.7 932.7,323.0 934.9,326.3 937.1,328.3 938.7,324.3 940.7,314.3 942.4,304.3 944.0,299.7 945.6,299.0 947.7,301.7 950.0,305.7 952.0,312.3 954.0,321.0 955.7,326.3 957.3,327.7 958.9,323.0 960.7,315.7 962.7,309.7 964.7,308.3 966.7,310.1 968.7,312.3 971.3,312.7 974.0,311.4 976.7,313.0 979.3,315.7 982.0,315.0 984.7,313.0 987.3,315.7 989.7,317.7 992.0,314.3 994.4,309.0 996.7,308.3 999.3,310.3 1002.0,310.1 1004.7,308.7 1006.0,309.5 1008.5,310.8 1011.5,310.0 1014.5,309.8 1017.5,310.5 1020.0,307.0 1022.0,304.5 1024.0,307.5 1026.0,315.0 1028.0,319.2 1030.0,313.0 1032.2,304.0 1034.3,299.0 1036.0,303.0 1038.0,310.5 1040.3,315.0 1042.0,309.0 1044.2,302.5 1046.2,300.8 1048.2,305.5 1050.5,312.5 1052.5,315.2 1054.5,314.0 1056.5,310.8 1058.5,309.2 1060.5,311.5 1063.0,316.5 1066.0,320.5 1069.0,321.8 1071.5,320.5 1074.0,316.5 1076.5,312.5 1078.5,313.5 1081.0,315.2 1083.0,314.2 1085.0,310.0 1086.8,308.0 1088.8,312.0 1091.0,318.5 1092.8,322.2 1094.8,318.5 1097.0,311.5 1099.0,309.0 1101.0,312.5 1103.0,316.0 1105.0,313.5 1107.0,308.5 1109.0,306.0 1111.0,308.5 1113.2,311.0" fill="none" stroke="#1f77b4" stroke-width="2.08" stroke-linejoin="round" stroke-linecap="butt"/>
<line x1="907.5" y1="377.5" x2="907.5" y2="248.5" stroke="#000" stroke-width="1.39" stroke-dasharray="5.14 2.22"/>
<polyline points="80.5,303.3 81.0,303.2 81.5,303.2 82.0,303.2 82.5,303.1 83.0,303.1 83.5,303.1 84.0,303.1 84.5,303.0 85.0,303.0 85.5,303.0 86.0,303.0 86.5,303.0 87.0,303.0 87.5,303.0 88.0,303.0 88.5,303.0 89.0,303.0 89.5,303.0 90.0,303.1 90.5,303.1 91.0,303.1 91.5,303.1 92.0,303.2 92.5,303.2 93.0,303.2 93.5,303.3 94.0,303.3 94.5,303.4 95.0,303.4 95.5,303.5 96.0,303.5 96.5,303.6 97.0,303.6 97.5,303.7 98.0,303.8 98.5,303.8 99.0,303.9 99.5,304.0 100.0,304.1 100.5,304.1 101.0,304.2 101.5,304.3 102.0,304.4 102.5,304.5 103.0,304.6 103.5,304.7 104.0,304.8 104.5,304.9 105.0,305.0 105.5,305.1 106.0,305.2 106.5,305.3 107.0,305.4 107.5,305.5 108.0,305.7 108.5,305.8 109.0,305.9 109.5,306.0 110.0,306.2 110.5,306.3 111.0,306.4 111.5,306.6 112.0,306.7 112.5,306.8 113.0,307.0 113.5,307.1 114.0,307.3 114.5,307.4 115.0,307.6 115.5,307.7 116.0,307.8 116.5,308.0 117.0,308.2 117.5,308.3 118.0,308.5 118.5,308.6 119.0,308.8 119.5,308.9 120.0,309.1 120.5,309.3 121.0,309.4 121.5,309.6 122.0,309.8 122.5,309.9 123.0,310.1 123.5,310.3 124.0,310.4 124.5,310.6 125.0,310.8 125.5,310.9 126.0,311.1 126.5,311.3 127.0,311.4 127.5,311.6 128.0,311.8 128.5,312.0 129.0,312.1 129.5,312.3 130.0,312.5 130.5,312.6 131.0,312.8 131.5,313.0 132.0,313.2 132.5,313.3 133.0,313.5 133.5,313.7 134.0,313.8 134.5,314.0 135.0,314.2 135.5,314.3 136.0,314.5 136.5,314.7 137.0,314.8 137.5,315.0 138.0,315.2 138.5,315.3 139.0,315.5 139.5,315.7 140.0,315.8 140.5,316.0 141.0,316.1 141.5,316.3 142.0,316.4 142.5,316.6 143.0,316.8 143.5,316.9 144.0,317.0 144.5,317.2 145.0,317.3 145.5,317.5 146.0,317.6 146.5,317.8 147.0,317.9 147.5,318.0 148.0,318.2 148.5,318.3 149.0,318.4 149.5,318.6 150.0,318.7 150.5,318.8 151.0,318.9 151.5,319.1 152.0,319.2 152.5,319.3 153.0,319.4 153.5,319.5 154.0,319.6 154.5,319.7 155.0,319.8 155.5,319.9 156.0,320.0 156.5,320.1 157.0,320.2 157.5,320.3 158.0,320.4 158.5,320.5 159.0,320.5 159.5,320.6 160.0,320.7 160.5,320.8 161.0,320.8 161.5,320.9 162.0,321.0 162.5,321.0 163.0,321.1 163.5,321.1 164.0,321.2 164.5,321.2 165.0,321.3 165.5,321.3 166.0,321.4 166.5,321.4 167.0,321.4 167.5,321.5 168.0,321.5 168.5,321.5 169.0,321.5 169.5,321.6 170.0,321.6 170.5,321.6 171.0,321.6 171.5,321.6 172.0,321.6 172.5,321.6 173.0,321.6 173.5,321.6 174.0,321.6 174.5,321.5 175.0,321.5 175.5,321.5 176.0,321.5 176.5,321.4 177.0,321.4 177.5,321.4 178.0,321.3 178.5,321.3 179.0,321.2 179.5,321.1 180.0,321.1 180.5,321.0 181.0,320.9 181.5,320.9 182.0,320.8 182.5,320.7 183.0,320.6 183.5,320.5 184.0,320.4 184.5,320.3 185.0,320.2 185.5,320.1 186.0,320.0 186.5,319.9 187.0,319.8 187.5,319.7 188.0,319.6 188.5,319.4 189.0,319.3 189.5,319.2 190.0,319.0 190.5,318.9 191.0,318.8 191.5,318.6 192.0,318.5 192.5,318.3 193.0,318.2 193.5,318.0 194.0,317.9 194.5,317.7 195.0,317.5 195.5,317.4 196.0,317.2 196.5,317.0 197.0,316.9 197.5,316.7 198.0,316.5 198.5,316.3 199.0,316.2 199.5,316.0 200.0,315.8 200.5,315.6 201.0,315.4 201.5,315.2 202.0,315.1 202.5,314.9 203.0,314.7 203.5,314.5 204.0,314.3 204.5,314.1 205.0,313.9 205.5,313.7 206.0,313.5 206.5,313.3 207.0,313.1 207.5,312.9 208.0,312.7 208.5,312.5 209.0,312.3 209.5,312.1 210.0,311.9 210.5,311.7 211.0,311.5 211.5,311.3 212.0,311.1 212.5,310.9 213.0,310.7 213.5,310.5 214.0,310.3 214.5,310.1 215.0,309.9 215.5,309.7 216.0,309.5 216.5,309.3 217.0,309.1 217.5,308.9 218.0,308.7 218.5,308.5 219.0,308.4 219.5,308.2 220.0,308.0 220.5,307.8 221.0,307.6 221.5,307.4 222.0,307.3 222.5,307.1 223.0,306.9 223.5,306.7 224.0,306.6 224.5,306.4 225.0,306.2 225.5,306.1 226.0,305.9 226.5,305.7 227.0,305.6 227.5,305.4 228.0,305.3 228.5,305.1 229.0,305.0 229.5,304.8 230.0,304.7 230.5,304.6 231.0,304.4 231.5,304.3 232.0,304.2 232.5,304.0 233.0,303.9 233.5,303.8 234.0,303.7 234.5,303.6 235.0,303.5 235.5,303.4 236.0,303.3 236.5,303.2 237.0,303.1 237.5,303.0 238.0,302.9 238.5,302.8 239.0,302.7 239.5,302.7 240.0,302.6 240.5,302.5 241.0,302.5 241.5,302.4 242.0,302.3 242.5,302.3 243.0,302.2 243.5,302.2 244.0,302.2 244.5,302.1 245.0,302.1 245.5,302.1 246.0,302.1 246.5,302.0 247.0,302.0 247.5,302.0 248.0,302.0 248.5,302.0 249.0,302.0 249.5,302.0 250.0,302.0 250.5,302.0 251.0,302.1 251.5,302.1 252.0,302.1 252.5,302.1 253.0,302.2 253.5,302.2 254.0,302.3 254.5,302.3 255.0,302.4 255.5,302.4 256.0,302.5 256.5,302.6 257.0,302.6 257.5,302.7 258.0,302.8 258.5,302.9 259.0,303.0 259.5,303.0 260.0,303.1 260.5,303.2 261.0,303.3 261.5,303.4 262.0,303.6 262.5,303.7 263.0,303.8 263.5,303.9 264.0,304.0 264.5,304.2 265.0,304.3 265.5,304.4 266.0,304.6 266.5,304.7 267.0,304.9 267.5,305.0 268.0,305.2 268.5,305.3 269.0,305.5 269.5,305.6 270.0,305.8 270.5,306.0 271.0,306.1 271.5,306.3 272.0,306.5 272.5,306.7 273.0,306.8 273.5,307.0 274.0,307.2 274.5,307.4 275.0,307.6 275.5,307.8 276.0,308.0 276.5,308.2 277.0,308.3 277.5,308.5 278.0,308.7 278.5,308.9 279.0,309.1 279.5,309.3 280.0,309.6 280.5,309.8 281.0,310.0 281.5,310.2 282.0,310.4 282.5,310.6 283.0,310.8 283.5,311.0 284.0,311.2 284.5,311.4 285.0,311.7 285.5,311.9 286.0,312.1 286.5,312.3 287.0,312.5 287.5,312.7 288.0,312.9 288.5,313.1 289.0,313.4 289.5,313.6 290.0,313.8 290.5,314.0 291.0,314.2 291.5,314.4 292.0,314.6 292.5,314.8 293.0,315.0 293.5,315.2 294.0,315.5 294.5,315.7 295.0,315.9 295.5,316.1 296.0,316.3 296.5,316.5 297.0,316.6 297.5,316.8 298.0,317.0 298.5,317.2 299.0,317.4 299.5,317.6 300.0,317.8 300.5,318.0 301.0,318.1 301.5,318.3 302.0,318.5 302.5,318.7 303.0,318.8 303.5,319.0 304.0,319.2 304.5,319.3 305.0,319.5 305.5,319.6 306.0,319.8 306.5,319.9 307.0,320.1 307.5,320.2 308.0,320.4 308.5,320.5 309.0,320.6 309.5,320.8 310.0,320.9 310.5,321.0 311.0,321.1 311.5,321.2 312.0,321.4 312.5,321.5 313.0,321.6 313.5,321.7 314.0,321.8 314.5,321.8 315.0,321.9 315.5,322.0 316.0,322.1 316.5,322.2 317.0,322.2 317.5,322.3 318.0,322.4 318.5,322.4 319.0,322.5 319.5,322.5 320.0,322.6 320.5,322.6 321.0,322.7 321.5,322.7 322.0,322.7 322.5,322.7 323.0,322.8 323.5,322.8 324.0,322.8 324.5,322.8 325.0,322.8 325.5,322.8 326.0,322.8 326.5,322.8 327.0,322.8 327.5,322.7 328.0,322.7 328.5,322.7 329.0,322.6 329.5,322.6 330.0,322.6 330.5,322.5 331.0,322.4 331.5,322.4 332.0,322.3 332.5,322.3 333.0,322.2 333.5,322.1 334.0,322.0 334.5,321.9 335.0,321.8 335.5,321.7 336.0,321.6 336.5,321.5 337.0,321.4 337.5,321.3 338.0,321.2 338.5,321.1 339.0,320.9 339.5,320.8 340.0,320.7 340.5,320.5 341.0,320.4 341.5,320.2 342.0,320.1 342.5,319.9 343.0,319.8 343.5,319.6 344.0,319.4 344.5,319.3 345.0,319.1 345.5,318.9 346.0,318.7 346.5,318.6 347.0,318.4 347.5,318.2 348.0,318.0 348.5,317.8 349.0,317.6 349.5,317.4 350.0,317.2 350.5,317.0 351.0,316.8 351.5,316.6 352.0,316.4 352.5,316.2 353.0,316.0 353.5,315.8 354.0,315.5 354.5,315.3 355.0,315.1 355.5,314.9 356.0,314.7 356.5,314.4 357.0,314.2 357.5,314.0 358.0,313.8 358.5,313.5 359.0,313.3 359.5,313.1 360.0,312.9 360.5,312.6 361.0,312.4 361.5,312.2 362.0,312.0 362.5,311.7 363.0,311.5 363.5,311.3 364.0,311.1 364.5,310.8 365.0,310.6 365.5,310.4 366.0,310.2 366.5,309.9 367.0,309.7 367.5,309.5 368.0,309.3 368.5,309.1 369.0,308.8 369.5,308.6 370.0,308.4 370.5,308.2 371.0,308.0 371.5,307.8 372.0,307.6 372.5,307.4 373.0,307.2 373.5,307.0 374.0,306.8 374.5,306.6 375.0,306.4 375.5,306.2 376.0,306.0 376.5,305.9 377.0,305.7 377.5,305.5 378.0,305.3 378.5,305.2 379.0,305.0 379.5,304.8 380.0,304.7 380.5,304.5 381.0,304.4 381.5,304.2 382.0,304.1 382.5,303.9 383.0,303.8 383.5,303.7 384.0,303.5 384.5,303.4 385.0,303.3 385.5,303.2 386.0,303.1 386.5,303.0 387.0,302.9 387.5,302.8 388.0,302.7 388.5,302.6 389.0,302.5 389.5,302.4 390.0,302.3 390.5,302.3 391.0,302.2 391.5,302.2 392.0,302.1 392.5,302.0 393.0,302.0 393.5,302.0 394.0,301.9 394.5,301.9 395.0,301.9 395.5,301.8 396.0,301.8 396.5,301.8 397.0,301.8 397.5,301.8 398.0,301.8 398.5,301.8 399.0,301.8 399.5,301.8 400.0,301.9 400.5,301.9 401.0,301.9 401.5,302.0 402.0,302.0 402.5,302.1 403.0,302.1 403.5,302.2 404.0,302.2 404.5,302.3 405.0,302.4 405.5,302.5 406.0,302.6 406.5,302.6 407.0,302.7 407.5,302.8 408.0,302.9 408.5,303.0 409.0,303.2 409.5,303.3 410.0,303.4 410.5,303.5 411.0,303.7 411.5,303.8 412.0,303.9 412.5,304.1 413.0,304.2 413.5,304.4 414.0,304.5 414.5,304.7 415.0,304.9 415.5,305.0 416.0,305.2 416.5,305.4 417.0,305.6 417.5,305.7 418.0,305.9 418.5,306.1 419.0,306.3 419.5,306.5 420.0,306.7 420.5,306.9 421.0,307.1 421.5,307.3 422.0,307.5 422.5,307.7 423.0,307.9 423.5,308.2 424.0,308.4 424.5,308.6 425.0,308.8 425.5,309.0 426.0,309.3 426.5,309.5 427.0,309.7 427.5,309.9 428.0,310.2 428.5,310.4 429.0,310.6 429.5,310.9 430.0,311.1 430.5,311.3 431.0,311.6 431.5,311.8 432.0,312.0 432.5,312.3 433.0,312.5 433.5,312.8 434.0,313.0 434.5,313.2 435.0,313.5 435.5,313.7 436.0,313.9 436.5,314.2 437.0,314.4 437.5,314.6 438.0,314.9 438.5,315.1 439.0,315.3 439.5,315.5 440.0,315.8 440.5,316.0 441.0,316.2 441.5,316.4 442.0,316.6 442.5,316.9 443.0,317.1 443.5,317.3 444.0,317.5 444.5,317.7 445.0,317.9 445.5,318.1 446.0,318.3 446.5,318.5 447.0,318.7 447.5,318.9 448.0,319.1 448.5,319.2 449.0,319.4 449.5,319.6 450.0,319.8 450.5,319.9 451.0,320.1 451.5,320.3 452.0,320.4 452.5,320.6 453.0,320.7 453.5,320.9 454.0,321.0 454.5,321.1 455.0,321.3 455.5,321.4 456.0,321.5 456.5,321.6 457.0,321.8 457.5,321.9 458.0,322.0 458.5,322.1 459.0,322.2 459.5,322.2 460.0,322.3 460.5,322.4 461.0,322.5 461.5,322.6 462.0,322.6 462.5,322.7 463.0,322.7 463.5,322.8 464.0,322.8 464.5,322.9 465.0,322.9 465.5,322.9 466.0,323.0 466.5,323.0 467.0,323.0 467.5,323.0 468.0,323.0 468.5,323.0 469.0,323.0 469.5,323.0 470.0,322.9 470.5,322.9 471.0,322.9 471.5,322.8 472.0,322.8 472.5,322.7 473.0,322.7 473.5,322.6 474.0,322.5 474.5,322.4 475.0,322.4 475.5,322.3 476.0,322.2 476.5,322.0 477.0,321.9 477.5,321.8 478.0,321.7 478.5,321.6 479.0,321.4 479.5,321.3 480.0,321.1 480.5,321.0 481.0,320.8 481.5,320.7 482.0,320.5 482.5,320.3 483.0,320.1 483.5,319.9 484.0,319.7 484.5,319.6 485.0,319.4 485.5,319.2 486.0,318.9 486.5,318.7 487.0,318.5 487.5,318.3 488.0,318.1 488.5,317.8 489.0,317.6 489.5,317.4 490.0,317.1 490.5,316.9 491.0,316.6 491.5,316.4 492.0,316.1 492.5,315.9 493.0,315.6 493.5,315.4 494.0,315.1 494.5,314.9 495.0,314.6 495.5,314.3 496.0,314.1 496.5,313.8 497.0,313.5 497.5,313.3 498.0,313.0 498.5,312.7 499.0,312.4 499.5,312.2 500.0,311.9 500.5,311.6 501.0,311.4 501.5,311.1 502.0,310.8 502.5,310.5 503.0,310.3 503.5,310.0 504.0,309.7 504.5,309.5 505.0,309.2 505.5,308.9 506.0,308.7 506.5,308.4 507.0,308.2 507.5,307.9 508.0,307.7 508.5,307.4 509.0,307.2 509.5,306.9 510.0,306.7 510.5,306.4 511.0,306.2 511.5,306.0 512.0,305.7 512.5,305.5 513.0,305.3 513.5,305.1 514.0,304.9 514.5,304.6 515.0,304.4 515.5,304.2 516.0,304.1 516.5,303.9 517.0,303.7 517.5,303.5 518.0,303.3 518.5,303.1 519.0,303.0 519.5,302.8 520.0,302.7 520.5,302.5 521.0,302.4 521.5,302.2 522.0,302.1 522.5,302.0 523.0,301.9 523.5,301.8 524.0,301.6 524.5,301.5 525.0,301.4 525.5,301.4 526.0,301.3 526.5,301.2 527.0,301.1 527.5,301.1 528.0,301.0 528.5,301.0 529.0,300.9 529.5,300.9 530.0,300.9 530.5,300.8 531.0,300.8 531.5,300.8 532.0,300.8 532.5,300.8 533.0,300.8 533.5,300.8 534.0,300.9 534.5,300.9 535.0,300.9 535.5,301.0 536.0,301.0 536.5,301.1 537.0,301.2 537.5,301.2 538.0,301.3 538.5,301.4 539.0,301.5 539.5,301.6 540.0,301.7 540.5,301.8 541.0,302.0 541.5,302.1 542.0,302.2 542.5,302.4 543.0,302.5 543.5,302.7 544.0,302.8 544.5,303.0 545.0,303.2 545.5,303.3 546.0,303.5 546.5,303.7 547.0,303.9 547.5,304.1 548.0,304.3 548.5,304.5 549.0,304.7 549.5,305.0 550.0,305.2 550.5,305.4 551.0,305.7 551.5,305.9 552.0,306.1 552.5,306.4 553.0,306.6 553.5,306.9 554.0,307.1 554.5,307.4 555.0,307.7 555.5,307.9 556.0,308.2 556.5,308.5 557.0,308.7 557.5,309.0 558.0,309.3 558.5,309.6 559.0,309.9 559.5,310.1 560.0,310.4 560.5,310.7 561.0,311.0 561.5,311.3 562.0,311.6 562.5,311.9 563.0,312.2 563.5,312.4 564.0,312.7 564.5,313.0 565.0,313.3 565.5,313.6 566.0,313.9 566.5,314.2 567.0,314.5 567.5,314.7 568.0,315.0 568.5,315.3 569.0,315.6 569.5,315.9 570.0,316.1 570.5,316.4 571.0,316.7 571.5,316.9 572.0,317.2 572.5,317.5 573.0,317.7 573.5,318.0 574.0,318.2 574.5,318.5 575.0,318.7 575.5,318.9 576.0,319.2 576.5,319.4 577.0,319.6 577.5,319.9 578.0,320.1 578.5,320.3 579.0,320.5 579.5,320.7 580.0,320.9 580.5,321.1 581.0,321.3 581.5,321.4 582.0,321.6 582.5,321.8 583.0,321.9 583.5,322.1 584.0,322.2 584.5,322.4 585.0,322.5 585.5,322.6 586.0,322.8 586.5,322.9 587.0,323.0 587.5,323.1 588.0,323.2 588.5,323.3 589.0,323.4 589.5,323.4 590.0,323.5 590.5,323.6 591.0,323.6 591.5,323.7 592.0,323.7 592.5,323.7 593.0,323.8 593.5,323.8 594.0,323.8 594.5,323.8 595.0,323.8 595.5,323.8 596.0,323.8 596.5,323.7 597.0,323.7 597.5,323.6 598.0,323.6 598.5,323.5 599.0,323.4 599.5,323.3 600.0,323.3 600.5,323.1 601.0,323.0 601.5,322.9 602.0,322.8 602.5,322.7 603.0,322.5 603.5,322.4 604.0,322.2 604.5,322.0 605.0,321.8 605.5,321.7 606.0,321.5 606.5,321.3 607.0,321.1 607.5,320.8 608.0,320.6 608.5,320.4 609.0,320.2 609.5,319.9 610.0,319.7 610.5,319.4 611.0,319.2 611.5,318.9 612.0,318.6 612.5,318.4 613.0,318.1 613.5,317.8 614.0,317.5 614.5,317.2 615.0,316.9 615.5,316.6 616.0,316.3 616.5,316.0 617.0,315.7 617.5,315.4 618.0,315.1 618.5,314.7 619.0,314.4 619.5,314.1 620.0,313.8 620.5,313.4 621.0,313.1 621.5,312.8 622.0,312.5 622.5,312.1 623.0,311.8 623.5,311.5 624.0,311.1 624.5,310.8 625.0,310.5 625.5,310.2 626.0,309.8 626.5,309.5 627.0,309.2 627.5,308.9 628.0,308.5 628.5,308.2 629.0,307.9 629.5,307.6 630.0,307.3 630.5,307.0 631.0,306.7 631.5,306.4 632.0,306.1 632.5,305.8 633.0,305.5 633.5,305.2 634.0,305.0 634.5,304.7 635.0,304.4 635.5,304.2 636.0,303.9 636.5,303.7 637.0,303.4 637.5,303.2 638.0,303.0 638.5,302.8 639.0,302.5 639.5,302.3 640.0,302.1 640.5,301.9 641.0,301.8 641.5,301.6 642.0,301.4 642.5,301.2 643.0,301.1 643.5,300.9 644.0,300.8 644.5,300.7 645.0,300.6 645.5,300.5 646.0,300.3 646.5,300.3 647.0,300.2 647.5,300.1 648.0,300.0 648.5,300.0 649.0,299.9 649.5,299.9 650.0,299.8 650.5,299.8 651.0,299.8 651.5,299.8 652.0,299.8 652.5,299.8 653.0,299.8 653.5,299.9 654.0,299.9 654.5,300.0 655.0,300.1 655.5,300.1 656.0,300.2 656.5,300.3 657.0,300.5 657.5,300.6 658.0,300.7 658.5,300.9 659.0,301.0 659.5,301.2 660.0,301.4 660.5,301.5 661.0,301.7 661.5,301.9 662.0,302.1 662.5,302.4 663.0,302.6 663.5,302.8 664.0,303.1 664.5,303.3 665.0,303.6 665.5,303.9 666.0,304.1 666.5,304.4 667.0,304.7 667.5,305.0 668.0,305.3 668.5,305.6 669.0,306.0 669.5,306.3 670.0,306.6 670.5,306.9 671.0,307.3 671.5,307.6 672.0,308.0 672.5,308.3 673.0,308.7 673.5,309.0 674.0,309.4 674.5,309.7 675.0,310.1 675.5,310.5 676.0,310.8 676.5,311.2 677.0,311.6 677.5,312.0 678.0,312.3 678.5,312.7 679.0,313.1 679.5,313.4 680.0,313.8 680.5,314.2 681.0,314.5 681.5,314.9 682.0,315.3 682.5,315.6 683.0,316.0 683.5,316.4 684.0,316.7 684.5,317.0 685.0,317.4 685.5,317.7 686.0,318.1 686.5,318.4 687.0,318.7 687.5,319.0 688.0,319.4 688.5,319.7 689.0,320.0 689.5,320.3 690.0,320.5 690.5,320.8 691.0,321.1 691.5,321.4 692.0,321.6 692.5,321.9 693.0,322.1 693.5,322.3 694.0,322.6 694.5,322.8 695.0,323.0 695.5,323.2 696.0,323.4 696.5,323.6 697.0,323.7 697.5,323.9 698.0,324.0 698.5,324.2 699.0,324.3 699.5,324.4 700.0,324.5 700.5,324.6 701.0,324.7 701.5,324.8 702.0,324.8 702.5,324.9 703.0,324.9 703.5,325.0 704.0,325.0 704.5,325.0 705.0,325.0 705.5,325.0 706.0,325.0 706.5,324.9 707.0,324.8 707.5,324.8 708.0,324.7 708.5,324.6 709.0,324.5 709.5,324.3 710.0,324.2 710.5,324.0 711.0,323.9 711.5,323.7 712.0,323.5 712.5,323.3 713.0,323.0 713.5,322.8 714.0,322.6 714.5,322.3 715.0,322.0 715.5,321.7 716.0,321.5 716.5,321.2 717.0,320.8 717.5,320.5 718.0,320.2 718.5,319.8 719.0,319.5 719.5,319.1 720.0,318.8 720.5,318.4 721.0,318.0 721.5,317.6 722.0,317.2 722.5,316.8 723.0,316.4 723.5,316.0 724.0,315.6 724.5,315.1 725.0,314.7 725.5,314.3 726.0,313.8 726.5,313.4 727.0,313.0 727.5,312.5 728.0,312.1 728.5,311.6 729.0,311.2 729.5,310.8 730.0,310.3 730.5,309.9 731.0,309.5 731.5,309.0 732.0,308.6 732.5,308.2 733.0,307.7 733.5,307.3 734.0,306.9 734.5,306.5 735.0,306.1 735.5,305.7 736.0,305.3 736.5,304.9 737.0,304.5 737.5,304.2 738.0,303.8 738.5,303.5 739.0,303.1 739.5,302.8 740.0,302.5 740.5,302.1 741.0,301.8 741.5,301.6 742.0,301.3 742.5,301.0 743.0,300.7 743.5,300.5 744.0,300.3 744.5,300.0 745.0,299.8 745.5,299.6 746.0,299.4 746.5,299.3 747.0,299.1 747.5,299.0 748.0,298.8 748.5,298.7 749.0,298.6 749.5,298.5 750.0,298.5 750.5,298.4 751.0,298.3 751.5,298.3 752.0,298.3 752.5,298.3 753.0,298.3 753.5,298.4 754.0,298.4 754.5,298.5 755.0,298.6 755.5,298.7 756.0,298.8 756.5,299.0 757.0,299.1 757.5,299.3 758.0,299.5 758.5,299.7 759.0,300.0 759.5,300.2 760.0,300.5 760.5,300.8 761.0,301.1 761.5,301.4 762.0,301.7 762.5,302.1 763.0,302.4 763.5,302.8 764.0,303.2 764.5,303.6 765.0,304.0 765.5,304.4 766.0,304.8 766.5,305.3 767.0,305.7 767.5,306.2 768.0,306.7 768.5,307.1 769.0,307.6 769.5,308.1 770.0,308.6 770.5,309.1 771.0,309.6 771.5,310.1 772.0,310.7 772.5,311.2 773.0,311.7 773.5,312.2 774.0,312.7 774.5,313.3 775.0,313.8 775.5,314.3 776.0,314.8 776.5,315.4 777.0,315.9 777.5,316.4 778.0,316.9 778.5,317.4 779.0,317.9 779.5,318.4 780.0,318.9 780.5,319.3 781.0,319.8 781.5,320.3 782.0,320.7 782.5,321.1 783.0,321.6 783.5,322.0 784.0,322.4 784.5,322.8 785.0,323.2 785.5,323.5 786.0,323.9 786.5,324.2 787.0,324.5 787.5,324.9 788.0,325.2 788.5,325.4 789.0,325.7 789.5,325.9 790.0,326.2 790.5,326.4 791.0,326.6 791.5,326.7 792.0,326.9 792.5,327.0 793.0,327.2 793.5,327.3 794.0,327.3 794.5,327.4 795.0,327.5 795.5,327.5 796.0,327.5 796.5,327.5 797.0,327.4 797.5,327.4 798.0,327.3 798.5,327.1 799.0,327.0 799.5,326.8 800.0,326.6 800.5,326.3 801.0,326.0 801.5,325.7 802.0,325.4 802.5,325.0 803.0,324.7 803.5,324.3 804.0,323.8 804.5,323.4 805.0,322.9 805.5,322.4 806.0,321.9 806.5,321.4 807.0,320.8 807.5,320.3 808.0,319.7 808.5,319.1 809.0,318.5 809.5,317.8 810.0,317.2 810.5,316.5 811.0,315.9 811.5,315.2 812.0,314.5 812.5,313.9 813.0,313.2 813.5,312.5 814.0,311.8 814.5,311.1 815.0,310.4 815.5,309.7 816.0,309.1 816.5,308.4 817.0,307.7 817.5,307.1 818.0,306.4 818.5,305.8 819.0,305.1 819.5,304.5 820.0,303.9 820.5,303.3 821.0,302.7 821.5,302.2 822.0,301.6 822.5,301.1 823.0,300.6 823.5,300.1 824.0,299.6 824.5,299.2 825.0,298.8 825.5,298.4 826.0,298.0 826.5,297.7 827.0,297.3 827.5,297.1 828.0,296.8 828.5,296.6 829.0,296.3 829.5,296.2 830.0,296.0 830.5,295.9 831.0,295.8 831.5,295.7 832.0,295.7 832.5,295.7 833.0,295.7 833.5,295.8 834.0,295.9 834.5,296.1 835.0,296.3 835.5,296.6 836.0,296.9 836.5,297.2 837.0,297.6 837.5,298.0 838.0,298.4 838.5,298.9 839.0,299.4 839.5,300.0 840.0,300.5 840.5,301.2 841.0,301.8 841.5,302.5 842.0,303.2 842.5,303.9 843.0,304.6 843.5,305.4 844.0,306.2 844.5,307.0 845.0,307.8 845.5,308.6 846.0,309.5 846.5,310.3 847.0,311.2 847.5,312.0 848.0,312.9 848.5,313.8 849.0,314.6 849.5,315.5 850.0,316.3 850.5,317.2 851.0,318.0 851.5,318.8 852.0,319.6 852.5,320.4 853.0,321.2 853.5,322.0 854.0,322.7 854.5,323.4 855.0,324.1 855.5,324.8 856.0,325.4 856.5,326.0 857.0,326.6 857.5,327.1 858.0,327.6 858.5,328.1 859.0,328.5 859.5,328.9 860.0,329.2 860.5,329.6 861.0,329.8 861.5,330.1 862.0,330.3 862.5,330.4 863.0,330.5 863.5,330.6 864.0,330.6 864.5,330.6 865.0,330.4 865.5,330.3 866.0,330.0 866.5,329.6 867.0,329.2 867.5,328.7 868.0,328.2 868.5,327.5 869.0,326.9 869.5,326.1 870.0,325.3 870.5,324.4 871.0,323.5 871.5,322.5 872.0,321.5 872.5,320.4 873.0,319.3 873.5,318.2 874.0,317.1 874.5,315.9 875.0,314.7 875.5,313.5 876.0,312.2 876.5,311.0 877.0,309.8 877.5,308.5 878.0,307.3 878.5,306.1 879.0,304.9 879.5,303.8 880.0,302.7 880.5,301.6 881.0,300.5 881.5,299.5 882.0,298.5 882.5,297.6 883.0,296.7 883.5,295.9 884.0,295.1 884.5,294.5 885.0,293.8 885.5,293.3 886.0,292.8 886.5,292.4 887.0,292.0 887.5,291.7 888.0,291.6 888.5,291.4 889.0,291.4 889.5,291.5 890.0,291.7 890.5,292.0 891.0,292.5 891.5,293.2 892.0,293.9 892.5,294.8 893.0,295.8 893.5,297.0 894.0,298.2 894.5,299.5 895.0,300.9 895.5,302.4 896.0,304.0 896.5,305.6 897.0,307.3 897.5,309.0 898.0,310.7 898.5,312.5 899.0,314.3 899.5,316.0 900.0,317.7 900.5,319.4 901.0,321.1 901.5,322.7 902.0,324.2 902.5,325.6 903.0,327.0 903.5,328.3 904.0,329.4 904.5,330.5 905.0,331.4 905.5,332.2 906.0,332.9 906.5,333.5 907.0,333.9 907.5,334.2 908.0,334.3 908.5,334.3 909.0,334.0 909.5,333.5 910.0,332.8 910.5,331.9 911.0,330.8 911.5,329.4 912.0,327.9 912.5,326.3 913.0,324.5 913.5,322.6 914.0,320.5 914.5,318.4 915.0,316.3 915.5,314.1 916.0,311.9 916.5,309.7 917.0,307.6 917.5,305.5 918.0,303.6 918.5,301.7 919.0,300.0 919.5,298.4 920.0,297.0 920.5,295.8 921.0,294.8 921.5,294.0 922.0,293.5 922.5,293.1 923.0,293.0 923.5,293.1 924.0,293.5 924.5,294.2 925.0,295.0 925.5,296.1 926.0,297.5 926.5,299.0 927.0,300.7 927.5,302.5 928.0,304.4 928.5,306.5 929.0,308.5 929.5,310.6 930.0,312.7 930.5,314.8 931.0,316.7 931.5,318.6 932.0,320.4 932.5,321.9 933.0,323.3 933.5,324.5 934.0,325.5 934.5,326.3 935.0,326.7 935.5,327.0 936.0,327.0 936.5,326.7 937.0,326.1 937.5,325.4 938.0,324.4 938.5,323.2 939.0,321.8 939.5,320.3 940.0,318.7 940.5,317.0 941.0,315.2 941.5,313.4 942.0,311.7 942.5,310.0 943.0,308.4 943.5,306.9 944.0,305.5 944.5,304.4 945.0,303.4 945.5,302.7 946.0,302.2 946.5,302.0 947.0,302.0 947.5,302.2 948.0,302.5 948.5,303.0 949.0,303.7 949.5,304.4 950.0,305.3 950.5,306.3 951.0,307.4 951.5,308.5 952.0,309.7 952.5,310.9 953.0,312.0 953.5,313.2 954.0,314.3 954.5,315.3 955.0,316.2 955.5,317.0 956.0,317.7 956.5,318.3 957.0,318.7 957.5,318.9 958.0,319.0 958.5,318.9 959.0,318.8 959.5,318.5 960.0,318.2 960.5,317.7 961.0,317.2 961.5,316.5 962.0,315.9 962.5,315.2 963.0,314.4 963.5,313.6 964.0,312.9 964.5,312.1 965.0,311.4 965.5,310.8 966.0,310.1 966.5,309.6 967.0,309.1 967.5,308.8 968.0,308.5 968.5,308.4 969.0,308.3 969.5,308.3 970.0,308.4 970.5,308.6 971.0,308.8 971.5,309.1 972.0,309.4 972.5,309.8 973.0,310.2 973.5,310.6 974.0,311.0 974.5,311.5 975.0,312.0 975.5,312.5 976.0,312.9 976.5,313.4 977.0,313.8 977.5,314.2 978.0,314.5 978.5,314.8 979.0,315.0 979.5,315.2 980.0,315.3 980.5,315.4 981.0,315.4 981.5,315.3 982.0,315.2 982.5,315.1 983.0,314.9 983.5,314.6 984.0,314.4 984.5,314.1 985.0,313.7 985.5,313.4 986.0,313.0 986.5,312.7 987.0,312.4 987.5,312.0 988.0,311.7 988.5,311.5 989.0,311.2 989.5,311.0 990.0,310.9 990.5,310.8 991.0,310.7 991.5,310.7 992.0,310.7 992.5,310.8 993.0,310.8 993.5,310.9 994.0,311.0 994.5,311.2 995.0,311.3 995.5,311.5 996.0,311.6 996.5,311.8 997.0,312.0 997.5,312.2 998.0,312.4 998.5,312.5 999.0,312.7 999.5,312.8 1000.0,313.0 1000.5,313.1 1001.0,313.2 1001.5,313.2 1002.0,313.3 1002.5,313.3 1003.0,313.3 1003.5,313.3 1004.0,313.2 1004.5,313.2 1005.0,313.1 1005.5,313.0 1006.0,312.9 1006.5,312.7 1007.0,312.6 1007.5,312.5 1008.0,312.3 1008.5,312.2 1009.0,312.1 1009.5,312.0 1010.0,311.9 1010.5,311.8 1011.0,311.7 1011.5,311.7 1012.0,311.7 1012.5,311.7 1013.0,311.7 1013.5,311.7 1014.0,311.8 1014.5,311.8 1015.0,311.8 1015.5,311.9 1016.0,311.9 1016.5,312.0 1017.0,312.0 1017.5,312.1 1018.0,312.2 1018.5,312.2 1019.0,312.3 1019.5,312.3 1020.0,312.3 1020.5,312.4 1021.0,312.4 1021.5,312.4 1022.0,312.4 1022.5,312.4 1023.0,312.4 1023.5,312.4 1024.0,312.4 1024.5,312.4 1025.0,312.3 1025.5,312.3 1026.0,312.3 1026.5,312.3 1027.0,312.3 1027.5,312.2 1028.0,312.2 1028.5,312.2 1029.0,312.2 1029.5,312.2 1030.0,312.1 1030.5,312.1 1031.0,312.1 1031.5,312.1 1032.0,312.1 1032.5,312.0 1033.0,312.0 1033.5,312.0 1034.0,312.0 1034.5,312.0 1035.0,312.0 1035.5,312.0 1036.0,312.0 1036.5,312.0 1037.0,312.0 1037.5,312.0 1038.0,312.0 1038.5,312.0 1039.0,312.0 1039.5,312.0 1040.0,312.0 1040.5,312.0 1041.0,312.0 1041.5,312.0 1042.0,312.0 1042.5,312.0 1043.0,312.0 1043.5,312.0 1044.0,312.0 1044.5,312.0 1045.0,312.0 1045.5,312.0 1046.0,312.0 1046.5,312.0 1047.0,312.0 1047.5,312.0 1048.0,312.0 1048.5,312.0 1049.0,312.0 1049.5,312.0 1050.0,312.0 1050.5,312.0 1051.0,312.0 1051.5,312.0 1052.0,312.0 1052.5,312.0 1053.0,312.0 1053.5,312.0 1054.0,312.0 1054.5,312.0 1055.0,312.0 1055.5,312.0 1056.0,312.0 1056.5,312.1 1057.0,312.1 1057.5,312.1 1058.0,312.1 1058.5,312.1 1059.0,312.1 1059.5,312.1 1060.0,312.1 1060.5,312.1 1061.0,312.1 1061.5,312.1 1062.0,312.1 1062.5,312.1 1063.0,312.1 1063.5,312.1 1064.0,312.1 1064.5,312.1 1065.0,312.1 1065.5,312.1 1066.0,312.1 1066.5,312.1 1067.0,312.1 1067.5,312.1 1068.0,312.1 1068.5,312.1 1069.0,312.1 1069.5,312.1 1070.0,312.1 1070.5,312.1 1071.0,312.1 1071.5,312.1 1072.0,312.1 1072.5,312.1 1073.0,312.1 1073.5,312.1 1074.0,312.1 1074.5,312.1 1075.0,312.2 1075.5,312.2 1076.0,312.2 1076.5,312.2 1077.0,312.2 1077.5,312.2 1078.0,312.2 1078.5,312.2 1079.0,312.2 1079.5,312.2 1080.0,312.2 1080.5,312.2 1081.0,312.2 1081.5,312.2 1082.0,312.2 1082.5,312.2 1083.0,312.2 1083.5,312.2 1084.0,312.2 1084.5,312.2 1085.0,312.2 1085.5,312.2 1086.0,312.2 1086.5,312.2 1087.0,312.2 1087.5,312.2 1088.0,312.2 1088.5,312.2 1089.0,312.2 1089.5,312.2 1090.0,312.2 1090.5,312.2 1091.0,312.2 1091.5,312.2 1092.0,312.2 1092.5,312.2 1093.0,312.3 1093.5,312.3 1094.0,312.3 1094.5,312.3 1095.0,312.3 1095.5,312.3 1096.0,312.3 1096.5,312.3 1097.0,312.3 1097.5,312.3 1098.0,312.3 1098.5,312.3 1099.0,312.3 1099.5,312.3 1100.0,312.3 1100.5,312.3 1101.0,312.3 1101.5,312.3 1102.0,312.3 1102.5,312.3 1103.0,312.3 1103.5,312.3 1104.0,312.3 1104.5,312.3 1105.0,312.3 1105.5,312.3 1106.0,312.3 1106.5,312.3 1107.0,312.3 1107.5,312.3 1108.0,312.3 1108.5,312.3 1109.0,312.3 1109.5,312.3 1110.0,312.3 1110.5,312.3 1111.0,312.3 1111.5,312.3 1112.0,312.3 1112.5,312.3 1113.0,312.3 1113.5,312.3" fill="none" stroke="#d62728" stroke-width="2.08" stroke-linejoin="round" stroke-linecap="butt"/>
</g>
<rect x="80.5" y="248.5" width="1033.0" height="129.0" fill="none" stroke="#000" stroke-width="1.11"/>
<line x1="80.5" y1="377.5" x2="80.5" y2="382.4" stroke="#000" stroke-width="1.11"/>
<text x="80.6" y="394.8" font-size="9.72" letter-spacing="-0.3" text-anchor="middle" fill="#000">−0.20</text>
<line x1="287.5" y1="377.5" x2="287.5" y2="382.4" stroke="#000" stroke-width="1.11"/>
<text x="287.1" y="394.8" font-size="9.72" letter-spacing="-0.3" text-anchor="middle" fill="#000">−0.15</text>
<line x1="493.5" y1="377.5" x2="493.5" y2="382.4" stroke="#000" stroke-width="1.11"/>
<text x="493.6" y="394.8" font-size="9.72" letter-spacing="-0.3" text-anchor="middle" fill="#000">−0.10</text>
<line x1="700.5" y1="377.5" x2="700.5" y2="382.4" stroke="#000" stroke-width="1.11"/>
<text x="700.2" y="394.8" font-size="9.72" letter-spacing="-0.3" text-anchor="middle" fill="#000">−0.05</text>
<line x1="907.5" y1="377.5" x2="907.5" y2="382.4" stroke="#000" stroke-width="1.11"/>
<text x="906.9" y="394.8" font-size="9.72" letter-spacing="-0.3" text-anchor="middle" fill="#000">0.00</text>
<line x1="1113.5" y1="377.5" x2="1113.5" y2="382.4" stroke="#000" stroke-width="1.11"/>
<text x="1113.5" y="394.8" font-size="9.72" letter-spacing="-0.3" text-anchor="middle" fill="#000">0.05</text>
<line x1="75.6" y1="269.5" x2="80.5" y2="269.5" stroke="#1f77b4" stroke-width="1.11"/>
<text x="70.7" y="273.0" font-size="11.11" letter-spacing="-0.3" text-anchor="end" fill="#1f77b4">200</text>
<line x1="75.6" y1="312.5" x2="80.5" y2="312.5" stroke="#1f77b4" stroke-width="1.11"/>
<text x="70.7" y="316.0" font-size="11.11" letter-spacing="-0.3" text-anchor="end" fill="#1f77b4">0</text>
<line x1="75.6" y1="355.5" x2="80.5" y2="355.5" stroke="#1f77b4" stroke-width="1.11"/>
<text x="70.7" y="359.0" font-size="11.11" letter-spacing="-0.3" text-anchor="end" fill="#1f77b4">−200</text>
<line x1="1113.5" y1="258.5" x2="1118.4" y2="258.5" stroke="#d62728" stroke-width="1.11"/>
<text x="1123.6" y="262.0" font-size="11.11" letter-spacing="-0.4" text-anchor="start" fill="#d62728">1.0</text>
<line x1="1113.5" y1="285.5" x2="1118.4" y2="285.5" stroke="#d62728" stroke-width="1.11"/>
<text x="1123.6" y="289.0" font-size="11.11" letter-spacing="-0.4" text-anchor="start" fill="#d62728">0.5</text>
<line x1="1113.5" y1="312.5" x2="1118.4" y2="312.5" stroke="#d62728" stroke-width="1.11"/>
<text x="1123.6" y="316.0" font-size="11.11" letter-spacing="-0.4" text-anchor="start" fill="#d62728">0.0</text>
<line x1="1113.5" y1="339.5" x2="1118.4" y2="339.5" stroke="#d62728" stroke-width="1.11"/>
<text x="1123.6" y="343.0" font-size="11.11" letter-spacing="-0.4" text-anchor="start" fill="#d62728">−0.5</text>
<line x1="1113.5" y1="366.5" x2="1118.4" y2="366.5" stroke="#d62728" stroke-width="1.11"/>
<text x="1123.6" y="370.0" font-size="11.11" letter-spacing="-0.4" text-anchor="start" fill="#d62728">−1.0</text>
<g transform="translate(0,312.5) rotate(-90)" font-size="8.33" text-anchor="middle" fill="#1f77b4"><text x="0" y="21.0">Amplitude of</text><text x="0" y="31.3">Whitened Strain (L1)</text></g>
<g transform="translate(0,312.5) rotate(-90)" font-size="8.33" text-anchor="middle" fill="#d62728"><text x="0" y="1161">Rescaled Amplitude of</text><text x="0" y="1171.3">Simulated Detector</text><text x="0" y="1181.6">Signal (L1)</text></g>
<g clip-path="url(#c2)">
<polyline points="80.7,482.2 82.1,483.9 83.9,480.4 85.9,476.9 87.9,476.9 90.0,481.0 92.1,483.1 94.1,478.7 96.1,474.0 98.2,472.8 100.3,477.5 102.2,481.0 104.2,479.8 106.1,477.7 108.1,478.1 110.1,481.6 112.2,483.9 114.3,478.7 116.2,474.6 118.2,476.9 120.3,485.1 122.4,490.9 124.4,485.7 126.4,479.2 128.5,478.7 130.6,485.7 132.6,490.1 134.7,486.8 136.6,483.9 138.7,484.5 140.7,486.2 142.7,481.6 144.8,476.3 146.6,474.9 148.5,479.2 150.6,484.3 152.7,485.1 155.3,481.0 158.2,476.3 160.5,472.2 162.5,470.7 164.6,472.6 167.0,474.6 169.3,470.5 171.4,467.6 173.0,468.7 174.9,474.0 176.9,478.4 178.9,473.4 181.0,466.4 183.1,463.7 185.0,467.6 187.4,472.8 189.7,469.9 192.6,468.2 195.5,468.4 196.0,468.2 197.7,461.2 199.5,457.7 201.2,458.2 203.2,465.2 205.3,470.5 207.4,466.4 209.4,460.6 211.4,459.4 213.5,463.5 215.6,466.4 217.6,462.3 219.6,459.4 221.7,462.9 224.0,467.2 226.1,465.8 228.1,460.6 229.8,459.1 232.2,460.6 234.5,459.4 236.6,458.2 238.6,460.6 240.3,467.6 242.1,472.8 244.0,474.0 246.1,472.2 248.5,474.6 250.8,477.3 253.1,478.1 255.5,475.7 257.8,471.1 259.9,468.7 261.9,472.2 263.9,479.8 266.0,484.7 268.1,482.2 270.1,479.2 272.4,480.4 274.7,482.2 276.7,480.4 278.6,479.2 280.2,484.5 282.3,491.5 284.0,493.6 286.0,488.6 288.1,483.9 290.2,485.1 292.2,486.8 294.2,481.6 296.3,477.3 298.0,480.4 300.0,488.6 302.1,491.5 304.2,487.4 306.2,483.6 308.5,486.2 310.9,489.1 313.2,486.2 315.5,483.6 316.0,483.3 318.3,481.9 320.7,481.9 322.4,484.5 324.4,489.7 326.7,490.1 328.8,483.3 330.9,477.5 332.9,476.6 335.2,477.5 337.6,478.1 339.9,480.4 342.2,482.2 344.0,477.5 345.7,469.9 347.3,467.6 349.0,467.6 350.8,472.2 353.1,476.6 355.4,473.4 357.4,470.7 359.7,470.5 362.1,471.1 365.0,470.8 367.9,473.1 370.2,474.0 373.1,473.4 375.5,476.9 377.8,480.4 380.1,481.0 383.6,480.8 386.6,480.1 389.5,478.7 392.4,477.7 394.7,478.1 396.7,481.0 398.8,487.4 400.9,492.1 402.9,492.4 405.2,490.9 407.2,493.2 409.3,496.4 411.4,497.3 413.4,495.0 415.4,492.9 417.5,493.6 419.8,495.0 422.1,493.8 425.0,490.5 427.7,488.6 429.7,489.1 431.7,492.6 433.8,496.4 435.5,495.2 436.0,495.4 438.0,491.4 440.0,491.0 442.0,494.1 444.0,494.1 445.6,487.7 447.3,479.0 448.9,474.3 450.4,474.1 452.0,477.7 454.0,481.0 456.0,478.3 458.0,475.9 459.7,477.0 461.6,480.7 463.7,481.0 466.0,477.0 468.7,473.0 471.3,469.3 473.3,467.7 475.3,468.3 477.3,471.4 479.3,473.7 481.3,472.3 483.3,469.0 485.3,466.6 487.3,466.1 489.3,465.7 491.3,463.0 493.3,460.7 494.7,461.0 496.3,465.7 498.4,472.3 500.4,474.3 502.0,471.0 503.7,465.7 505.1,464.7 506.7,467.7 508.7,473.0 510.7,476.7 512.7,475.9 514.9,474.3 517.1,475.9 518.9,479.0 520.7,479.7 522.7,477.3 524.7,476.7 526.7,481.0 528.7,487.0 530.7,493.7 532.7,498.3 534.7,501.0 536.7,499.7 538.7,495.7 540.7,491.9 542.7,491.0 545.1,493.0 547.7,495.4 550.7,496.7 553.3,495.0 555.7,491.9 558.0,489.7 560.2,490.2 562.7,491.0 565.2,488.5 567.3,481.8 569.3,472.7 571.3,466.0 573.2,465.2 574.7,470.2 576.3,479.3 578.0,484.3 579.7,485.7 581.3,479.3 583.5,471.0 586.0,464.3 588.5,460.2 590.7,457.3 592.7,458.0 594.7,461.8 596.8,466.8 599.3,470.7 602.3,472.3 605.2,471.0 608.5,468.5 611.8,466.5 614.3,466.0 616.0,471.0 618.0,479.3 619.7,485.2 621.8,483.5 623.5,478.5 625.7,479.0 627.3,485.2 629.3,490.2 631.3,488.5 633.5,485.7 635.7,488.5 637.7,496.0 639.8,501.3 641.8,502.7 644.0,505.2 646.0,509.0 648.0,508.0 650.2,501.0 652.3,494.7 654.3,493.0 656.8,494.7 659.3,497.3 661.8,499.7 664.0,495.2 665.5,486.8 666.0,483.5 667.5,477.0 668.8,476.5 670.5,479.0 672.5,480.5 674.0,478.0 676.0,470.0 678.0,463.5 680.5,461.5 682.5,459.0 684.5,455.5 686.5,455.2 688.5,460.0 690.5,464.2 692.5,461.5 694.5,457.5 696.5,458.5 698.5,465.0 700.5,469.5 703.0,470.2 704.5,472.0 706.0,476.5 707.2,480.5 708.0,483.0 709.0,488.0 710.8,495.0 712.8,499.2 715.0,498.5 717.0,497.8 719.0,501.0 721.0,507.0 723.0,510.8 725.0,508.5 727.0,505.5 729.0,504.8 731.5,505.8 734.0,503.5 736.0,499.0 738.5,492.0 740.5,485.0 741.8,481.5 742.8,480.0 745.0,472.0 748.0,461.0 751.0,451.0 753.2,444.0 755.0,442.5 757.0,446.0 759.5,448.0 762.0,447.0 763.5,448.5 765.5,456.0 767.5,464.0 770.0,473.0 771.8,480.0 772.4,483.0 774.0,491.0 776.0,501.0 778.5,514.0 780.5,521.0 782.0,519.5 783.5,516.2 785.6,516.5 786.3,516.7 789.3,517.3 791.1,510.0 792.7,494.0 793.7,482.0 794.2,477.0 796.0,462.0 798.0,444.0 800.0,429.0 801.8,422.0 803.5,425.0 805.5,438.0 807.5,455.0 809.5,470.0 810.7,477.0 811.3,483.3 813.3,502.0 815.3,518.0 817.3,525.3 819.3,518.0 821.3,502.0 823.3,486.0 824.7,475.3 825.5,462.0 827.0,450.0 828.0,445.0 830.0,445.5 832.0,452.0 834.0,463.0 836.0,475.0 836.8,486.0 838.0,494.0 839.3,503.3 842.0,510.7 844.0,506.0 846.0,495.3 848.0,484.7 850.0,475.3 852.0,470.7 854.0,472.7 856.0,475.3 858.0,476.0 860.0,475.3 862.0,480.7 864.0,488.0 864.9,489.3 866.7,483.3 868.7,476.0 870.3,472.7 872.0,476.7 874.3,483.3 876.4,478.0 878.7,472.0 880.7,476.7 882.7,486.0 884.7,488.0 886.7,482.0 888.7,477.3 890.7,479.3 892.7,481.3 894.7,478.7 896.7,476.7 898.7,480.0 900.9,484.7 903.3,482.0 905.6,480.0 906.0,481.0 907.0,481.0 909.0,480.0 911.0,474.0 912.8,467.0 915.0,466.8 916.8,474.0 918.8,481.5 920.8,483.0 922.8,484.0 925.0,487.5 927.2,490.2 929.0,488.5 931.0,486.5 933.0,487.5 935.2,488.8 937.2,486.5 939.2,484.8 941.2,486.0 943.5,488.2 945.5,487.5 947.2,483.5 949.0,478.0 951.0,474.5 953.0,472.2 955.0,473.0 956.5,478.0 958.0,484.0 959.5,488.5 961.5,488.0 963.0,481.0 964.5,474.0 965.5,472.0 967.0,477.0 968.2,484.0 969.5,491.0 971.5,494.0 973.0,488.0 974.5,477.0 976.0,470.0 977.8,467.5 979.5,471.0 981.5,475.0 984.0,477.0 986.0,481.0 987.5,485.5 989.8,485.8 991.2,481.0 992.8,476.0 994.0,474.5 995.5,477.5 997.0,482.0 998.2,484.0 1000.0,483.0 1001.5,477.0 1002.8,473.0 1004.0,471.8 1005.2,475.0 1006.0,476.0 1007.2,481.0 1008.2,484.8 1010.0,484.5 1011.5,480.0 1013.5,478.0 1015.5,482.0 1018.0,486.0 1020.5,483.0 1022.5,479.0 1024.5,477.8 1027.0,479.0 1030.0,480.0 1033.0,478.8 1036.0,477.8 1038.0,479.5 1040.0,482.8 1042.2,483.8 1044.0,479.5 1046.0,475.2 1047.8,476.0 1050.0,481.5 1052.2,484.8 1054.0,481.0 1056.0,475.5 1058.0,474.8 1060.0,478.0 1062.0,482.2 1064.0,483.8 1066.5,483.5 1068.5,480.0 1070.5,476.0 1072.5,475.0 1074.0,480.0 1075.5,486.0 1077.0,488.2 1079.0,487.0 1080.8,480.0 1082.5,475.5 1084.0,477.5 1085.5,484.0 1087.2,489.0 1089.0,491.2 1091.5,490.2 1093.8,488.5 1095.5,483.0 1097.2,474.5 1099.0,469.5 1100.8,473.0 1102.2,483.0 1103.8,491.0 1105.0,493.5 1106.5,490.0 1108.2,483.0 1109.8,479.0 1111.2,477.8 1112.5,479.5 1113.2,481.0" fill="none" stroke="#1f77b4" stroke-width="2.08" stroke-linejoin="round" stroke-linecap="butt"/>
<line x1="907.5" y1="546.5" x2="907.5" y2="416.5" stroke="#000" stroke-width="1.39" stroke-dasharray="5.14 2.22"/>
<polyline points="80.5,462.1 81.0,462.5 81.5,462.8 82.0,463.2 82.5,463.5 83.0,463.9 83.5,464.2 84.0,464.6 84.5,465.0 85.0,465.4 85.5,465.7 86.0,466.1 86.5,466.5 87.0,466.9 87.5,467.3 88.0,467.7 88.5,468.2 89.0,468.6 89.5,469.0 90.0,469.4 90.5,469.9 91.0,470.3 91.5,470.7 92.0,471.2 92.5,471.6 93.0,472.1 93.5,472.5 94.0,473.0 94.5,473.4 95.0,473.9 95.5,474.3 96.0,474.8 96.5,475.3 97.0,475.7 97.5,476.2 98.0,476.7 98.5,477.1 99.0,477.6 99.5,478.1 100.0,478.5 100.5,479.0 101.0,479.5 101.5,479.9 102.0,480.4 102.5,480.9 103.0,481.4 103.5,481.8 104.0,482.3 104.5,482.8 105.0,483.2 105.5,483.7 106.0,484.2 106.5,484.6 107.0,485.1 107.5,485.6 108.0,486.0 108.5,486.5 109.0,486.9 109.5,487.4 110.0,487.8 110.5,488.3 111.0,488.7 111.5,489.2 112.0,489.6 112.5,490.0 113.0,490.5 113.5,490.9 114.0,491.3 114.5,491.7 115.0,492.2 115.5,492.6 116.0,493.0 116.5,493.4 117.0,493.8 117.5,494.2 118.0,494.5 118.5,494.9 119.0,495.3 119.5,495.7 120.0,496.0 120.5,496.4 121.0,496.7 121.5,497.1 122.0,497.4 122.5,497.8 123.0,498.1 123.5,498.4 124.0,498.7 124.5,499.0 125.0,499.3 125.5,499.6 126.0,499.9 126.5,500.2 127.0,500.5 127.5,500.7 128.0,501.0 128.5,501.2 129.0,501.5 129.5,501.7 130.0,501.9 130.5,502.2 131.0,502.4 131.5,502.6 132.0,502.8 132.5,503.0 133.0,503.1 133.5,503.3 134.0,503.5 134.5,503.6 135.0,503.8 135.5,503.9 136.0,504.0 136.5,504.1 137.0,504.3 137.5,504.4 138.0,504.5 138.5,504.5 139.0,504.6 139.5,504.7 140.0,504.7 140.5,504.8 141.0,504.8 141.5,504.9 142.0,504.9 142.5,504.9 143.0,504.9 143.5,504.9 144.0,504.9 144.5,504.9 145.0,504.8 145.5,504.8 146.0,504.7 146.5,504.6 147.0,504.6 147.5,504.5 148.0,504.4 148.5,504.3 149.0,504.1 149.5,504.0 150.0,503.9 150.5,503.7 151.0,503.5 151.5,503.4 152.0,503.2 152.5,503.0 153.0,502.8 153.5,502.6 154.0,502.4 154.5,502.1 155.0,501.9 155.5,501.6 156.0,501.4 156.5,501.1 157.0,500.8 157.5,500.5 158.0,500.2 158.5,499.9 159.0,499.6 159.5,499.3 160.0,499.0 160.5,498.6 161.0,498.3 161.5,497.9 162.0,497.6 162.5,497.2 163.0,496.8 163.5,496.5 164.0,496.1 164.5,495.7 165.0,495.3 165.5,494.9 166.0,494.4 166.5,494.0 167.0,493.6 167.5,493.1 168.0,492.7 168.5,492.3 169.0,491.8 169.5,491.4 170.0,490.9 170.5,490.4 171.0,490.0 171.5,489.5 172.0,489.0 172.5,488.5 173.0,488.0 173.5,487.5 174.0,487.1 174.5,486.6 175.0,486.1 175.5,485.6 176.0,485.1 176.5,484.6 177.0,484.0 177.5,483.5 178.0,483.0 178.5,482.5 179.0,482.0 179.5,481.5 180.0,481.0 180.5,480.5 181.0,479.9 181.5,479.4 182.0,478.9 182.5,478.4 183.0,477.9 183.5,477.4 184.0,476.9 184.5,476.4 185.0,475.8 185.5,475.3 186.0,474.8 186.5,474.3 187.0,473.8 187.5,473.3 188.0,472.8 188.5,472.4 189.0,471.9 189.5,471.4 190.0,470.9 190.5,470.4 191.0,470.0 191.5,469.5 192.0,469.0 192.5,468.6 193.0,468.1 193.5,467.7 194.0,467.2 194.5,466.8 195.0,466.4 195.5,465.9 196.0,465.5 196.5,465.1 197.0,464.7 197.5,464.3 198.0,463.9 198.5,463.5 199.0,463.1 199.5,462.8 200.0,462.4 200.5,462.0 201.0,461.7 201.5,461.4 202.0,461.0 202.5,460.7 203.0,460.4 203.5,460.1 204.0,459.8 204.5,459.5 205.0,459.2 205.5,458.9 206.0,458.7 206.5,458.4 207.0,458.2 207.5,457.9 208.0,457.7 208.5,457.5 209.0,457.3 209.5,457.1 210.0,456.9 210.5,456.7 211.0,456.6 211.5,456.4 212.0,456.3 212.5,456.1 213.0,456.0 213.5,455.9 214.0,455.8 214.5,455.7 215.0,455.6 215.5,455.5 216.0,455.5 216.5,455.4 217.0,455.4 217.5,455.3 218.0,455.3 218.5,455.3 219.0,455.3 219.5,455.3 220.0,455.3 220.5,455.4 221.0,455.4 221.5,455.5 222.0,455.6 222.5,455.6 223.0,455.7 223.5,455.8 224.0,456.0 224.5,456.1 225.0,456.2 225.5,456.4 226.0,456.5 226.5,456.7 227.0,456.9 227.5,457.1 228.0,457.3 228.5,457.5 229.0,457.7 229.5,458.0 230.0,458.2 230.5,458.5 231.0,458.8 231.5,459.0 232.0,459.3 232.5,459.6 233.0,459.9 233.5,460.3 234.0,460.6 234.5,460.9 235.0,461.3 235.5,461.6 236.0,462.0 236.5,462.4 237.0,462.8 237.5,463.1 238.0,463.5 238.5,464.0 239.0,464.4 239.5,464.8 240.0,465.2 240.5,465.7 241.0,466.1 241.5,466.5 242.0,467.0 242.5,467.5 243.0,467.9 243.5,468.4 244.0,468.9 244.5,469.4 245.0,469.9 245.5,470.4 246.0,470.9 246.5,471.4 247.0,471.9 247.5,472.4 248.0,472.9 248.5,473.4 249.0,474.0 249.5,474.5 250.0,475.0 250.5,475.6 251.0,476.1 251.5,476.6 252.0,477.2 252.5,477.7 253.0,478.3 253.5,478.8 254.0,479.4 254.5,479.9 255.0,480.5 255.5,481.0 256.0,481.6 256.5,482.1 257.0,482.6 257.5,483.2 258.0,483.7 258.5,484.3 259.0,484.8 259.5,485.4 260.0,485.9 260.5,486.4 261.0,487.0 261.5,487.5 262.0,488.0 262.5,488.6 263.0,489.1 263.5,489.6 264.0,490.1 264.5,490.6 265.0,491.1 265.5,491.6 266.0,492.1 266.5,492.6 267.0,493.1 267.5,493.6 268.0,494.1 268.5,494.5 269.0,495.0 269.5,495.4 270.0,495.9 270.5,496.3 271.0,496.8 271.5,497.2 272.0,497.6 272.5,498.0 273.0,498.4 273.5,498.8 274.0,499.2 274.5,499.6 275.0,500.0 275.5,500.3 276.0,500.7 276.5,501.0 277.0,501.4 277.5,501.7 278.0,502.0 278.5,502.3 279.0,502.6 279.5,502.9 280.0,503.2 280.5,503.5 281.0,503.7 281.5,504.0 282.0,504.2 282.5,504.4 283.0,504.6 283.5,504.8 284.0,505.0 284.5,505.2 285.0,505.4 285.5,505.6 286.0,505.7 286.5,505.8 287.0,506.0 287.5,506.1 288.0,506.2 288.5,506.3 289.0,506.4 289.5,506.4 290.0,506.5 290.5,506.5 291.0,506.6 291.5,506.6 292.0,506.6 292.5,506.6 293.0,506.6 293.5,506.6 294.0,506.5 294.5,506.5 295.0,506.4 295.5,506.3 296.0,506.2 296.5,506.1 297.0,506.0 297.5,505.8 298.0,505.7 298.5,505.5 299.0,505.4 299.5,505.2 300.0,505.0 300.5,504.8 301.0,504.5 301.5,504.3 302.0,504.0 302.5,503.8 303.0,503.5 303.5,503.2 304.0,502.9 304.5,502.6 305.0,502.3 305.5,502.0 306.0,501.6 306.5,501.3 307.0,500.9 307.5,500.5 308.0,500.1 308.5,499.7 309.0,499.3 309.5,498.9 310.0,498.5 310.5,498.0 311.0,497.6 311.5,497.1 312.0,496.7 312.5,496.2 313.0,495.7 313.5,495.2 314.0,494.7 314.5,494.2 315.0,493.7 315.5,493.2 316.0,492.7 316.5,492.2 317.0,491.6 317.5,491.1 318.0,490.5 318.5,490.0 319.0,489.4 319.5,488.9 320.0,488.3 320.5,487.7 321.0,487.2 321.5,486.6 322.0,486.0 322.5,485.4 323.0,484.8 323.5,484.2 324.0,483.6 324.5,483.1 325.0,482.5 325.5,481.9 326.0,481.3 326.5,480.7 327.0,480.1 327.5,479.5 328.0,478.9 328.5,478.3 329.0,477.7 329.5,477.1 330.0,476.5 330.5,475.9 331.0,475.3 331.5,474.7 332.0,474.2 332.5,473.6 333.0,473.0 333.5,472.4 334.0,471.9 334.5,471.3 335.0,470.7 335.5,470.2 336.0,469.6 336.5,469.1 337.0,468.5 337.5,468.0 338.0,467.5 338.5,467.0 339.0,466.5 339.5,466.0 340.0,465.5 340.5,465.0 341.0,464.5 341.5,464.0 342.0,463.5 342.5,463.1 343.0,462.6 343.5,462.2 344.0,461.8 344.5,461.3 345.0,460.9 345.5,460.5 346.0,460.1 346.5,459.8 347.0,459.4 347.5,459.0 348.0,458.7 348.5,458.3 349.0,458.0 349.5,457.7 350.0,457.4 350.5,457.1 351.0,456.8 351.5,456.6 352.0,456.3 352.5,456.1 353.0,455.8 353.5,455.6 354.0,455.4 354.5,455.2 355.0,455.0 355.5,454.9 356.0,454.7 356.5,454.6 357.0,454.4 357.5,454.3 358.0,454.2 358.5,454.1 359.0,454.1 359.5,454.0 360.0,454.0 360.5,453.9 361.0,453.9 361.5,453.9 362.0,453.9 362.5,453.9 363.0,454.0 363.5,454.0 364.0,454.1 364.5,454.2 365.0,454.3 365.5,454.4 366.0,454.5 366.5,454.7 367.0,454.9 367.5,455.0 368.0,455.2 368.5,455.4 369.0,455.7 369.5,455.9 370.0,456.2 370.5,456.4 371.0,456.7 371.5,457.0 372.0,457.3 372.5,457.7 373.0,458.0 373.5,458.4 374.0,458.7 374.5,459.1 375.0,459.5 375.5,459.9 376.0,460.3 376.5,460.8 377.0,461.2 377.5,461.7 378.0,462.1 378.5,462.6 379.0,463.1 379.5,463.6 380.0,464.1 380.5,464.6 381.0,465.2 381.5,465.7 382.0,466.2 382.5,466.8 383.0,467.4 383.5,467.9 384.0,468.5 384.5,469.1 385.0,469.7 385.5,470.3 386.0,470.9 386.5,471.5 387.0,472.2 387.5,472.8 388.0,473.4 388.5,474.1 389.0,474.7 389.5,475.3 390.0,476.0 390.5,476.6 391.0,477.3 391.5,477.9 392.0,478.6 392.5,479.3 393.0,479.9 393.5,480.6 394.0,481.3 394.5,481.9 395.0,482.6 395.5,483.2 396.0,483.9 396.5,484.6 397.0,485.2 397.5,485.9 398.0,486.5 398.5,487.2 399.0,487.8 399.5,488.5 400.0,489.1 400.5,489.7 401.0,490.4 401.5,491.0 402.0,491.6 402.5,492.2 403.0,492.8 403.5,493.4 404.0,494.0 404.5,494.6 405.0,495.2 405.5,495.8 406.0,496.3 406.5,496.9 407.0,497.4 407.5,498.0 408.0,498.5 408.5,499.0 409.0,499.5 409.5,500.0 410.0,500.5 410.5,501.0 411.0,501.4 411.5,501.9 412.0,502.3 412.5,502.7 413.0,503.1 413.5,503.5 414.0,503.9 414.5,504.3 415.0,504.7 415.5,505.0 416.0,505.4 416.5,505.7 417.0,506.0 417.5,506.3 418.0,506.6 418.5,506.8 419.0,507.1 419.5,507.3 420.0,507.5 420.5,507.7 421.0,507.9 421.5,508.1 422.0,508.3 422.5,508.4 423.0,508.5 423.5,508.7 424.0,508.8 424.5,508.8 425.0,508.9 425.5,508.9 426.0,509.0 426.5,509.0 427.0,509.0 427.5,509.0 428.0,508.9 428.5,508.9 429.0,508.8 429.5,508.7 430.0,508.6 430.5,508.5 431.0,508.3 431.5,508.2 432.0,508.0 432.5,507.8 433.0,507.6 433.5,507.4 434.0,507.1 434.5,506.8 435.0,506.5 435.5,506.2 436.0,505.9 436.5,505.6 437.0,505.2 437.5,504.9 438.0,504.5 438.5,504.1 439.0,503.7 439.5,503.2 440.0,502.8 440.5,502.3 441.0,501.8 441.5,501.3 442.0,500.8 442.5,500.3 443.0,499.8 443.5,499.3 444.0,498.7 444.5,498.1 445.0,497.6 445.5,497.0 446.0,496.4 446.5,495.8 447.0,495.1 447.5,494.5 448.0,493.9 448.5,493.2 449.0,492.6 449.5,491.9 450.0,491.2 450.5,490.6 451.0,489.9 451.5,489.2 452.0,488.5 452.5,487.8 453.0,487.1 453.5,486.4 454.0,485.6 454.5,484.9 455.0,484.2 455.5,483.5 456.0,482.8 456.5,482.0 457.0,481.3 457.5,480.6 458.0,479.8 458.5,479.1 459.0,478.4 459.5,477.6 460.0,476.9 460.5,476.2 461.0,475.5 461.5,474.8 462.0,474.0 462.5,473.3 463.0,472.6 463.5,471.9 464.0,471.2 464.5,470.5 465.0,469.8 465.5,469.2 466.0,468.5 466.5,467.8 467.0,467.2 467.5,466.5 468.0,465.9 468.5,465.3 469.0,464.6 469.5,464.0 470.0,463.4 470.5,462.8 471.0,462.3 471.5,461.7 472.0,461.1 472.5,460.6 473.0,460.1 473.5,459.6 474.0,459.1 474.5,458.6 475.0,458.1 475.5,457.6 476.0,457.2 476.5,456.7 477.0,456.3 477.5,455.9 478.0,455.5 478.5,455.2 479.0,454.8 479.5,454.5 480.0,454.2 480.5,453.9 481.0,453.6 481.5,453.3 482.0,453.0 482.5,452.8 483.0,452.6 483.5,452.4 484.0,452.2 484.5,452.1 485.0,451.9 485.5,451.8 486.0,451.7 486.5,451.6 487.0,451.5 487.5,451.5 488.0,451.4 488.5,451.4 489.0,451.4 489.5,451.4 490.0,451.5 490.5,451.5 491.0,451.6 491.5,451.8 492.0,451.9 492.5,452.0 493.0,452.2 493.5,452.4 494.0,452.6 494.5,452.9 495.0,453.2 495.5,453.4 496.0,453.8 496.5,454.1 497.0,454.4 497.5,454.8 498.0,455.2 498.5,455.6 499.0,456.0 499.5,456.5 500.0,456.9 500.5,457.4 501.0,457.9 501.5,458.4 502.0,459.0 502.5,459.5 503.0,460.1 503.5,460.7 504.0,461.3 504.5,461.9 505.0,462.5 505.5,463.2 506.0,463.8 506.5,464.5 507.0,465.2 507.5,465.9 508.0,466.6 508.5,467.3 509.0,468.0 509.5,468.8 510.0,469.5 510.5,470.3 511.0,471.0 511.5,471.8 512.0,472.6 512.5,473.4 513.0,474.2 513.5,475.0 514.0,475.8 514.5,476.6 515.0,477.4 515.5,478.2 516.0,479.0 516.5,479.8 517.0,480.6 517.5,481.4 518.0,482.3 518.5,483.1 519.0,483.9 519.5,484.7 520.0,485.5 520.5,486.3 521.0,487.1 521.5,487.9 522.0,488.7 522.5,489.5 523.0,490.3 523.5,491.1 524.0,491.8 524.5,492.6 525.0,493.3 525.5,494.1 526.0,494.8 526.5,495.5 527.0,496.2 527.5,496.9 528.0,497.6 528.5,498.3 529.0,499.0 529.5,499.6 530.0,500.3 530.5,500.9 531.0,501.5 531.5,502.1 532.0,502.6 532.5,503.2 533.0,503.7 533.5,504.3 534.0,504.8 534.5,505.3 535.0,505.7 535.5,506.2 536.0,506.6 536.5,507.0 537.0,507.4 537.5,507.8 538.0,508.2 538.5,508.5 539.0,508.8 539.5,509.1 540.0,509.4 540.5,509.7 541.0,509.9 541.5,510.1 542.0,510.3 542.5,510.5 543.0,510.6 543.5,510.7 544.0,510.8 544.5,510.9 545.0,511.0 545.5,511.0 546.0,511.0 546.5,511.0 547.0,510.9 547.5,510.9 548.0,510.8 548.5,510.6 549.0,510.5 549.5,510.3 550.0,510.1 550.5,509.9 551.0,509.6 551.5,509.3 552.0,509.0 552.5,508.6 553.0,508.3 553.5,507.9 554.0,507.5 554.5,507.0 555.0,506.5 555.5,506.0 556.0,505.5 556.5,505.0 557.0,504.4 557.5,503.8 558.0,503.2 558.5,502.6 559.0,501.9 559.5,501.3 560.0,500.6 560.5,499.9 561.0,499.1 561.5,498.4 562.0,497.6 562.5,496.9 563.0,496.1 563.5,495.2 564.0,494.4 564.5,493.6 565.0,492.7 565.5,491.9 566.0,491.0 566.5,490.1 567.0,489.2 567.5,488.3 568.0,487.4 568.5,486.5 569.0,485.6 569.5,484.7 570.0,483.7 570.5,482.8 571.0,481.9 571.5,480.9 572.0,480.0 572.5,479.0 573.0,478.1 573.5,477.1 574.0,476.2 574.5,475.3 575.0,474.3 575.5,473.4 576.0,472.5 576.5,471.6 577.0,470.7 577.5,469.8 578.0,468.9 578.5,468.0 579.0,467.1 579.5,466.3 580.0,465.4 580.5,464.6 581.0,463.8 581.5,462.9 582.0,462.1 582.5,461.4 583.0,460.6 583.5,459.9 584.0,459.1 584.5,458.4 585.0,457.7 585.5,457.1 586.0,456.4 586.5,455.8 587.0,455.2 587.5,454.6 588.0,454.0 588.5,453.5 589.0,453.0 589.5,452.5 590.0,452.0 590.5,451.5 591.0,451.1 591.5,450.7 592.0,450.4 592.5,450.0 593.0,449.7 593.5,449.4 594.0,449.1 594.5,448.9 595.0,448.7 595.5,448.5 596.0,448.4 596.5,448.2 597.0,448.1 597.5,448.1 598.0,448.0 598.5,448.0 599.0,448.0 599.5,448.1 600.0,448.2 600.5,448.3 601.0,448.4 601.5,448.6 602.0,448.9 602.5,449.1 603.0,449.4 603.5,449.8 604.0,450.1 604.5,450.5 605.0,451.0 605.5,451.4 606.0,451.9 606.5,452.5 607.0,453.0 607.5,453.6 608.0,454.3 608.5,454.9 609.0,455.6 609.5,456.3 610.0,457.0 610.5,457.8 611.0,458.6 611.5,459.4 612.0,460.2 612.5,461.1 613.0,462.0 613.5,462.9 614.0,463.8 614.5,464.7 615.0,465.7 615.5,466.7 616.0,467.7 616.5,468.7 617.0,469.7 617.5,470.7 618.0,471.8 618.5,472.8 619.0,473.9 619.5,475.0 620.0,476.0 620.5,477.1 621.0,478.2 621.5,479.3 622.0,480.4 622.5,481.5 623.0,482.6 623.5,483.7 624.0,484.8 624.5,485.9 625.0,487.0 625.5,488.1 626.0,489.2 626.5,490.2 627.0,491.3 627.5,492.4 628.0,493.4 628.5,494.4 629.0,495.4 629.5,496.4 630.0,497.4 630.5,498.4 631.0,499.3 631.5,500.3 632.0,501.2 632.5,502.1 633.0,503.0 633.5,503.8 634.0,504.6 634.5,505.4 635.0,506.2 635.5,507.0 636.0,507.7 636.5,508.4 637.0,509.1 637.5,509.7 638.0,510.3 638.5,510.9 639.0,511.4 639.5,512.0 640.0,512.4 640.5,512.9 641.0,513.3 641.5,513.7 642.0,514.1 642.5,514.4 643.0,514.7 643.5,514.9 644.0,515.1 644.5,515.3 645.0,515.5 645.5,515.6 646.0,515.7 646.5,515.7 647.0,515.7 647.5,515.7 648.0,515.6 648.5,515.4 649.0,515.2 649.5,515.0 650.0,514.7 650.5,514.4 651.0,514.0 651.5,513.5 652.0,513.1 652.5,512.5 653.0,512.0 653.5,511.4 654.0,510.7 654.5,510.0 655.0,509.3 655.5,508.5 656.0,507.7 656.5,506.8 657.0,505.9 657.5,505.0 658.0,504.0 658.5,503.0 659.0,502.0 659.5,500.9 660.0,499.8 660.5,498.7 661.0,497.6 661.5,496.4 662.0,495.2 662.5,494.0 663.0,492.7 663.5,491.5 664.0,490.2 664.5,488.9 665.0,487.6 665.5,486.3 666.0,485.0 666.5,483.7 667.0,482.3 667.5,481.0 668.0,479.7 668.5,478.3 669.0,477.0 669.5,475.6 670.0,474.3 670.5,473.0 671.0,471.7 671.5,470.4 672.0,469.1 672.5,467.8 673.0,466.5 673.5,465.3 674.0,464.0 674.5,462.8 675.0,461.6 675.5,460.5 676.0,459.3 676.5,458.2 677.0,457.2 677.5,456.1 678.0,455.1 678.5,454.1 679.0,453.1 679.5,452.2 680.0,451.3 680.5,450.5 681.0,449.7 681.5,448.9 682.0,448.2 682.5,447.5 683.0,446.9 683.5,446.3 684.0,445.7 684.5,445.2 685.0,444.8 685.5,444.4 686.0,444.0 686.5,443.7 687.0,443.4 687.5,443.2 688.0,443.0 688.5,442.9 689.0,442.8 689.5,442.8 690.0,442.8 690.5,442.9 691.0,443.1 691.5,443.4 692.0,443.7 692.5,444.0 693.0,444.5 693.5,445.0 694.0,445.6 694.5,446.2 695.0,446.9 695.5,447.7 696.0,448.5 696.5,449.4 697.0,450.4 697.5,451.4 698.0,452.4 698.5,453.5 699.0,454.7 699.5,455.9 700.0,457.2 700.5,458.5 701.0,459.8 701.5,461.2 702.0,462.6 702.5,464.1 703.0,465.5 703.5,467.1 704.0,468.6 704.5,470.2 705.0,471.8 705.5,473.4 706.0,475.0 706.5,476.6 707.0,478.3 707.5,479.9 708.0,481.6 708.5,483.2 709.0,484.9 709.5,486.5 710.0,488.2 710.5,489.8 711.0,491.4 711.5,493.0 712.0,494.6 712.5,496.2 713.0,497.7 713.5,499.3 714.0,500.7 714.5,502.2 715.0,503.6 715.5,505.0 716.0,506.3 716.5,507.6 717.0,508.9 717.5,510.1 718.0,511.3 718.5,512.4 719.0,513.4 719.5,514.4 720.0,515.4 720.5,516.3 721.0,517.1 721.5,517.9 722.0,518.6 722.5,519.2 723.0,519.8 723.5,520.3 724.0,520.8 724.5,521.1 725.0,521.4 725.5,521.7 726.0,521.9 726.5,522.0 727.0,522.0 727.5,521.9 728.0,521.8 728.5,521.5 729.0,521.1 729.5,520.6 730.0,520.0 730.5,519.3 731.0,518.4 731.5,517.5 732.0,516.5 732.5,515.3 733.0,514.1 733.5,512.8 734.0,511.4 734.5,509.9 735.0,508.3 735.5,506.7 736.0,504.9 736.5,503.1 737.0,501.3 737.5,499.4 738.0,497.4 738.5,495.4 739.0,493.3 739.5,491.2 740.0,489.0 740.5,486.9 741.0,484.7 741.5,482.5 742.0,480.2 742.5,478.0 743.0,475.8 743.5,473.5 744.0,471.3 744.5,469.1 745.0,467.0 745.5,464.8 746.0,462.7 746.5,460.6 747.0,458.6 747.5,456.6 748.0,454.7 748.5,452.9 749.0,451.1 749.5,449.3 750.0,447.7 750.5,446.1 751.0,444.6 751.5,443.2 752.0,441.9 752.5,440.7 753.0,439.5 753.5,438.5 754.0,437.6 754.5,436.7 755.0,436.0 755.5,435.4 756.0,434.9 756.5,434.5 757.0,434.2 757.5,434.1 758.0,434.0 758.5,434.1 759.0,434.4 759.5,434.8 760.0,435.5 760.5,436.3 761.0,437.3 761.5,438.5 762.0,439.9 762.5,441.4 763.0,443.1 763.5,444.9 764.0,446.9 764.5,449.0 765.0,451.2 765.5,453.6 766.0,456.0 766.5,458.6 767.0,461.3 767.5,464.1 768.0,466.9 768.5,469.8 769.0,472.7 769.5,475.7 770.0,478.7 770.5,481.7 771.0,484.8 771.5,487.8 772.0,490.8 772.5,493.8 773.0,496.7 773.5,499.6 774.0,502.4 774.5,505.2 775.0,507.9 775.5,510.5 776.0,512.9 776.5,515.3 777.0,517.5 777.5,519.6 778.0,521.6 778.5,523.4 779.0,525.1 779.5,526.6 780.0,528.0 780.5,529.2 781.0,530.2 781.5,531.0 782.0,531.7 782.5,532.1 783.0,532.4 783.5,532.5 784.0,532.3 784.5,531.8 785.0,530.9 785.5,529.6 786.0,528.0 786.5,526.1 787.0,523.9 787.5,521.4 788.0,518.5 788.5,515.4 789.0,512.1 789.5,508.6 790.0,504.8 790.5,500.9 791.0,496.8 791.5,492.6 792.0,488.3 792.5,484.0 793.0,479.6 793.5,475.3 794.0,471.0 794.5,466.7 795.0,462.5 795.5,458.4 796.0,454.5 796.5,450.7 797.0,447.2 797.5,443.9 798.0,440.8 798.5,437.9 799.0,435.4 799.5,433.2 800.0,431.3 800.5,429.7 801.0,428.4 801.5,427.5 802.0,427.0 802.5,426.8 803.0,427.1 803.5,427.9 804.0,429.3 804.5,431.1 805.0,433.5 805.5,436.4 806.0,439.7 806.5,443.5 807.0,447.6 807.5,452.0 808.0,456.7 808.5,461.6 809.0,466.8 809.5,472.0 810.0,477.3 810.5,482.7 811.0,487.9 811.5,493.1 812.0,498.1 812.5,503.0 813.0,507.5 813.5,511.7 814.0,515.6 814.5,519.1 815.0,522.2 815.5,524.8 816.0,526.8 816.5,528.4 817.0,529.5 817.5,530.0 818.0,529.9 818.5,529.1 819.0,527.6 819.5,525.5 820.0,522.8 820.5,519.4 821.0,515.6 821.5,511.2 822.0,506.5 822.5,501.5 823.0,496.2 823.5,490.7 824.0,485.2 824.5,479.8 825.0,474.4 825.5,469.3 826.0,464.4 826.5,459.9 827.0,455.8 827.5,452.3 828.0,449.3 828.5,446.9 829.0,445.2 829.5,444.2 830.0,443.8 830.5,444.1 831.0,444.9 831.5,446.2 832.0,447.9 832.5,450.2 833.0,452.9 833.5,455.9 834.0,459.3 834.5,462.9 835.0,466.7 835.5,470.7 836.0,474.8 836.5,478.8 837.0,482.8 837.5,486.6 838.0,490.2 838.5,493.6 839.0,496.6 839.5,499.3 840.0,501.6 840.5,503.3 841.0,504.6 841.5,505.4 842.0,505.7 842.5,505.5 843.0,504.9 843.5,503.9 844.0,502.5 844.5,500.7 845.0,498.6 845.5,496.3 846.0,493.7 846.5,491.0 847.0,488.2 847.5,485.2 848.0,482.3 848.5,479.5 849.0,476.8 849.5,474.2 850.0,471.9 850.5,469.8 851.0,468.0 851.5,466.6 852.0,465.6 852.5,465.0 853.0,464.8 853.5,464.9 854.0,465.3 854.5,465.9 855.0,466.7 855.5,467.8 856.0,469.0 856.5,470.4 857.0,472.0 857.5,473.6 858.0,475.4 858.5,477.2 859.0,479.0 859.5,480.8 860.0,482.5 860.5,484.1 861.0,485.7 861.5,487.0 862.0,488.2 862.5,489.2 863.0,490.0 863.5,490.6 864.0,490.9 864.5,491.0 865.0,490.9 865.5,490.6 866.0,490.1 866.5,489.5 867.0,488.7 867.5,487.8 868.0,486.8 868.5,485.7 869.0,484.5 869.5,483.3 870.0,482.1 870.5,480.9 871.0,479.7 871.5,478.6 872.0,477.6 872.5,476.7 873.0,476.0 873.5,475.4 874.0,475.0 874.5,474.7 875.0,474.6 875.5,474.7 876.0,474.8 876.5,475.1 877.0,475.5 877.5,476.0 878.0,476.6 878.5,477.2 879.0,477.9 879.5,478.7 880.0,479.4 880.5,480.2 881.0,480.9 881.5,481.7 882.0,482.4 882.5,483.0 883.0,483.5 883.5,484.0 884.0,484.3 884.5,484.6 885.0,484.7 885.5,484.7 886.0,484.6 886.5,484.5 887.0,484.3 887.5,484.1 888.0,483.8 888.5,483.5 889.0,483.2 889.5,482.8 890.0,482.3 890.5,481.9 891.0,481.4 891.5,481.0 892.0,480.6 892.5,480.1 893.0,479.7 893.5,479.4 894.0,479.1 894.5,478.8 895.0,478.6 895.5,478.4 896.0,478.3 896.5,478.2 897.0,478.2 897.5,478.3 898.0,478.4 898.5,478.5 899.0,478.7 899.5,478.9 900.0,479.1 900.5,479.4 901.0,479.7 901.5,480.0 902.0,480.3 902.5,480.6 903.0,480.9 903.5,481.2 904.0,481.5 904.5,481.7 905.0,482.0 905.5,482.1 906.0,482.3 906.5,482.4 907.0,482.5 907.5,482.5 908.0,482.5 908.5,482.4 909.0,482.4 909.5,482.2 910.0,482.1 910.5,481.9 911.0,481.8 911.5,481.6 912.0,481.4 912.5,481.1 913.0,480.9 913.5,480.7 914.0,480.5 914.5,480.4 915.0,480.2 915.5,480.1 916.0,479.9 916.5,479.9 917.0,479.8 917.5,479.8 918.0,479.8 918.5,479.8 919.0,479.9 919.5,479.9 920.0,480.0 920.5,480.0 921.0,480.1 921.5,480.2 922.0,480.3 922.5,480.4 923.0,480.5 923.5,480.6 924.0,480.7 924.5,480.8 925.0,480.9 925.5,481.0 926.0,481.1 926.5,481.2 927.0,481.3 927.5,481.3 928.0,481.4 928.5,481.4 929.0,481.5 929.5,481.5 930.0,481.5 930.5,481.5 931.0,481.5 931.5,481.4 932.0,481.4 932.5,481.3 933.0,481.2 933.5,481.1 934.0,481.1 934.5,481.0 935.0,480.9 935.5,480.7 936.0,480.6 936.5,480.6 937.0,480.5 937.5,480.4 938.0,480.3 938.5,480.3 939.0,480.2 939.5,480.2 940.0,480.2 940.5,480.2 941.0,480.2 941.5,480.2 942.0,480.2 942.5,480.2 943.0,480.3 943.5,480.3 944.0,480.3 944.5,480.3 945.0,480.4 945.5,480.4 946.0,480.4 946.5,480.5 947.0,480.5 947.5,480.5 948.0,480.6 948.5,480.6 949.0,480.7 949.5,480.7 950.0,480.7 950.5,480.8 951.0,480.8 951.5,480.8 952.0,480.8 952.5,480.9 953.0,480.9 953.5,480.9 954.0,480.9 954.5,480.9 955.0,480.9 955.5,480.9 956.0,480.9 956.5,480.9 957.0,480.9 957.5,480.9 958.0,480.9 958.5,480.9 959.0,480.9 959.5,480.9 960.0,480.9 960.5,480.9 961.0,480.9 961.5,480.9 962.0,480.9 962.5,480.9 963.0,480.9 963.5,480.9 964.0,480.9 964.5,480.9 965.0,480.9 965.5,480.9 966.0,480.9 966.5,480.9 967.0,480.9 967.5,480.9 968.0,480.9 968.5,480.9 969.0,480.9 969.5,480.9 970.0,480.9 970.5,480.9 971.0,480.9 971.5,480.9 972.0,480.9 972.5,480.9 973.0,480.9 973.5,480.9 974.0,480.9 974.5,480.9 975.0,480.9 975.5,480.9 976.0,480.9 976.5,480.9 977.0,480.9 977.5,480.9 978.0,480.9 978.5,480.9 979.0,480.9 979.5,480.9 980.0,480.9 980.5,480.9 981.0,480.9 981.5,480.9 982.0,480.9 982.5,480.9 983.0,480.9 983.5,480.9 984.0,480.9 984.5,480.9 985.0,480.9 985.5,480.9 986.0,480.9 986.5,480.9 987.0,480.9 987.5,480.9 988.0,480.9 988.5,480.9 989.0,480.9 989.5,480.9 990.0,480.9 990.5,480.9 991.0,480.9 991.5,480.9 992.0,480.9 992.5,480.9 993.0,480.9 993.5,480.9 994.0,480.9 994.5,480.9 995.0,480.9 995.5,480.9 996.0,480.9 996.5,480.9 997.0,480.9 997.5,480.9 998.0,480.9 998.5,480.9 999.0,480.9 999.5,480.9 1000.0,480.9 1000.5,480.9 1001.0,480.9 1001.5,480.9 1002.0,480.9 1002.5,480.9 1003.0,480.9 1003.5,480.9 1004.0,480.9 1004.5,480.9 1005.0,480.9 1005.5,480.9 1006.0,480.9 1006.5,480.9 1007.0,480.9 1007.5,480.9 1008.0,480.9 1008.5,480.9 1009.0,480.9 1009.5,480.9 1010.0,480.9 1010.5,480.9 1011.0,480.9 1011.5,480.9 1012.0,480.9 1012.5,480.9 1013.0,480.9 1013.5,480.9 1014.0,480.9 1014.5,480.9 1015.0,480.9 1015.5,480.9 1016.0,480.9 1016.5,480.9 1017.0,480.9 1017.5,480.9 1018.0,480.9 1018.5,480.9 1019.0,480.9 1019.5,480.9 1020.0,480.9 1020.5,480.9 1021.0,480.9 1021.5,480.9 1022.0,480.9 1022.5,480.9 1023.0,480.9 1023.5,480.9 1024.0,480.9 1024.5,480.9 1025.0,480.9 1025.5,480.9 1026.0,480.9 1026.5,480.9 1027.0,480.9 1027.5,480.9 1028.0,480.9 1028.5,480.9 1029.0,480.9 1029.5,480.9 1030.0,480.9 1030.5,480.9 1031.0,480.9 1031.5,480.9 1032.0,480.9 1032.5,480.9 1033.0,480.9 1033.5,480.9 1034.0,480.9 1034.5,480.9 1035.0,480.8 1035.5,480.8 1036.0,480.8 1036.5,480.8 1037.0,480.8 1037.5,480.8 1038.0,480.8 1038.5,480.8 1039.0,480.8 1039.5,480.8 1040.0,480.8 1040.5,480.8 1041.0,480.8 1041.5,480.8 1042.0,480.8 1042.5,480.8 1043.0,480.8 1043.5,480.8 1044.0,480.8 1044.5,480.8 1045.0,480.8 1045.5,480.8 1046.0,480.8 1046.5,480.8 1047.0,480.8 1047.5,480.8 1048.0,480.8 1048.5,480.8 1049.0,480.8 1049.5,480.8 1050.0,480.8 1050.5,480.8 1051.0,480.8 1051.5,480.8 1052.0,480.8 1052.5,480.8 1053.0,480.8 1053.5,480.8 1054.0,480.8 1054.5,480.8 1055.0,480.8 1055.5,480.8 1056.0,480.8 1056.5,480.8 1057.0,480.8 1057.5,480.8 1058.0,480.8 1058.5,480.8 1059.0,480.8 1059.5,480.8 1060.0,480.8 1060.5,480.8 1061.0,480.8 1061.5,480.8 1062.0,480.8 1062.5,480.8 1063.0,480.8 1063.5,480.8 1064.0,480.8 1064.5,480.8 1065.0,480.8 1065.5,480.8 1066.0,480.8 1066.5,480.8 1067.0,480.8 1067.5,480.8 1068.0,480.8 1068.5,480.8 1069.0,480.8 1069.5,480.8 1070.0,480.8 1070.5,480.8 1071.0,480.8 1071.5,480.8 1072.0,480.8 1072.5,480.8 1073.0,480.8 1073.5,480.8 1074.0,480.8 1074.5,480.8 1075.0,480.8 1075.5,480.8 1076.0,480.8 1076.5,480.8 1077.0,480.8 1077.5,480.8 1078.0,480.8 1078.5,480.8 1079.0,480.8 1079.5,480.8 1080.0,480.8 1080.5,480.8 1081.0,480.8 1081.5,480.8 1082.0,480.8 1082.5,480.8 1083.0,480.8 1083.5,480.8 1084.0,480.8 1084.5,480.8 1085.0,480.8 1085.5,480.8 1086.0,480.8 1086.5,480.8 1087.0,480.8 1087.5,480.8 1088.0,480.8 1088.5,480.8 1089.0,480.8 1089.5,480.8 1090.0,480.8 1090.5,480.8 1091.0,480.8 1091.5,480.8 1092.0,480.8 1092.5,480.8 1093.0,480.8 1093.5,480.8 1094.0,480.8 1094.5,480.8 1095.0,480.8 1095.5,480.8 1096.0,480.8 1096.5,480.8 1097.0,480.8 1097.5,480.8 1098.0,480.8 1098.5,480.8 1099.0,480.8 1099.5,480.8 1100.0,480.8 1100.5,480.8 1101.0,480.8 1101.5,480.8 1102.0,480.8 1102.5,480.8 1103.0,480.8 1103.5,480.8 1104.0,480.8 1104.5,480.8 1105.0,480.8 1105.5,480.8 1106.0,480.8 1106.5,480.8 1107.0,480.8 1107.5,480.8 1108.0,480.8 1108.5,480.8 1109.0,480.8 1109.5,480.8 1110.0,480.8 1110.5,480.8 1111.0,480.8 1111.5,480.8 1112.0,480.8 1112.5,480.8 1113.0,480.8 1113.5,480.8" fill="none" stroke="#d62728" stroke-width="2.08" stroke-linejoin="round" stroke-linecap="butt"/>
</g>
<rect x="80.5" y="416.5" width="1033.0" height="130.0" fill="none" stroke="#000" stroke-width="1.11"/>
<line x1="80.5" y1="546.5" x2="80.5" y2="551.4" stroke="#000" stroke-width="1.11"/>
<text x="80.6" y="562.8" font-size="9.72" letter-spacing="-0.3" text-anchor="middle" fill="#000">−0.20</text>
<line x1="287.5" y1="546.5" x2="287.5" y2="551.4" stroke="#000" stroke-width="1.11"/>
<text x="287.1" y="562.8" font-size="9.72" letter-spacing="-0.3" text-anchor="middle" fill="#000">−0.15</text>
<line x1="493.5" y1="546.5" x2="493.5" y2="551.4" stroke="#000" stroke-width="1.11"/>
<text x="493.6" y="562.8" font-size="9.72" letter-spacing="-0.3" text-anchor="middle" fill="#000">−0.10</text>
<line x1="700.5" y1="546.5" x2="700.5" y2="551.4" stroke="#000" stroke-width="1.11"/>
<text x="700.2" y="562.8" font-size="9.72" letter-spacing="-0.3" text-anchor="middle" fill="#000">−0.05</text>
<line x1="907.5" y1="546.5" x2="907.5" y2="551.4" stroke="#000" stroke-width="1.11"/>
<text x="906.9" y="562.8" font-size="9.72" letter-spacing="-0.3" text-anchor="middle" fill="#000">0.00</text>
<line x1="1113.5" y1="546.5" x2="1113.5" y2="551.4" stroke="#000" stroke-width="1.11"/>
<text x="1113.5" y="562.8" font-size="9.72" letter-spacing="-0.3" text-anchor="middle" fill="#000">0.05</text>
<line x1="75.6" y1="438.5" x2="80.5" y2="438.5" stroke="#1f77b4" stroke-width="1.11"/>
<text x="70.7" y="442.0" font-size="11.11" letter-spacing="-0.3" text-anchor="end" fill="#1f77b4">200</text>
<line x1="75.6" y1="481.5" x2="80.5" y2="481.5" stroke="#1f77b4" stroke-width="1.11"/>
<text x="70.7" y="485.0" font-size="11.11" letter-spacing="-0.3" text-anchor="end" fill="#1f77b4">0</text>
<line x1="75.6" y1="524.5" x2="80.5" y2="524.5" stroke="#1f77b4" stroke-width="1.11"/>
<text x="70.7" y="528.0" font-size="11.11" letter-spacing="-0.3" text-anchor="end" fill="#1f77b4">−200</text>
<line x1="1113.5" y1="427.5" x2="1118.4" y2="427.5" stroke="#d62728" stroke-width="1.11"/>
<text x="1123.6" y="431.0" font-size="11.11" letter-spacing="-0.4" text-anchor="start" fill="#d62728">1.0</text>
<line x1="1113.5" y1="454.5" x2="1118.4" y2="454.5" stroke="#d62728" stroke-width="1.11"/>
<text x="1123.6" y="458.0" font-size="11.11" letter-spacing="-0.4" text-anchor="start" fill="#d62728">0.5</text>
<line x1="1113.5" y1="481.5" x2="1118.4" y2="481.5" stroke="#d62728" stroke-width="1.11"/>
<text x="1123.6" y="485.0" font-size="11.11" letter-spacing="-0.4" text-anchor="start" fill="#d62728">0.0</text>
<line x1="1113.5" y1="508.5" x2="1118.4" y2="508.5" stroke="#d62728" stroke-width="1.11"/>
<text x="1123.6" y="512.0" font-size="11.11" letter-spacing="-0.4" text-anchor="start" fill="#d62728">−0.5</text>
<line x1="1113.5" y1="535.5" x2="1118.4" y2="535.5" stroke="#d62728" stroke-width="1.11"/>
<text x="1123.6" y="539.0" font-size="11.11" letter-spacing="-0.4" text-anchor="start" fill="#d62728">−1.0</text>
<g transform="translate(0,481.5) rotate(-90)" font-size="8.33" text-anchor="middle" fill="#1f77b4"><text x="0" y="21.0">Amplitude of</text><text x="0" y="31.3">Whitened Strain (V1)</text></g>
<g transform="translate(0,481.5) rotate(-90)" font-size="8.33" text-anchor="middle" fill="#d62728"><text x="0" y="1161">Rescaled Amplitude of</text><text x="0" y="1171.3">Simulated Detector</text><text x="0" y="1181.6">Signal (V1)</text></g>
<text x="596.7" y="581.5" font-size="13.89" letter-spacing="0.04" text-anchor="middle" fill="#000">Time from binary merger time (in seconds)</text>
</svg>
</body></html>
